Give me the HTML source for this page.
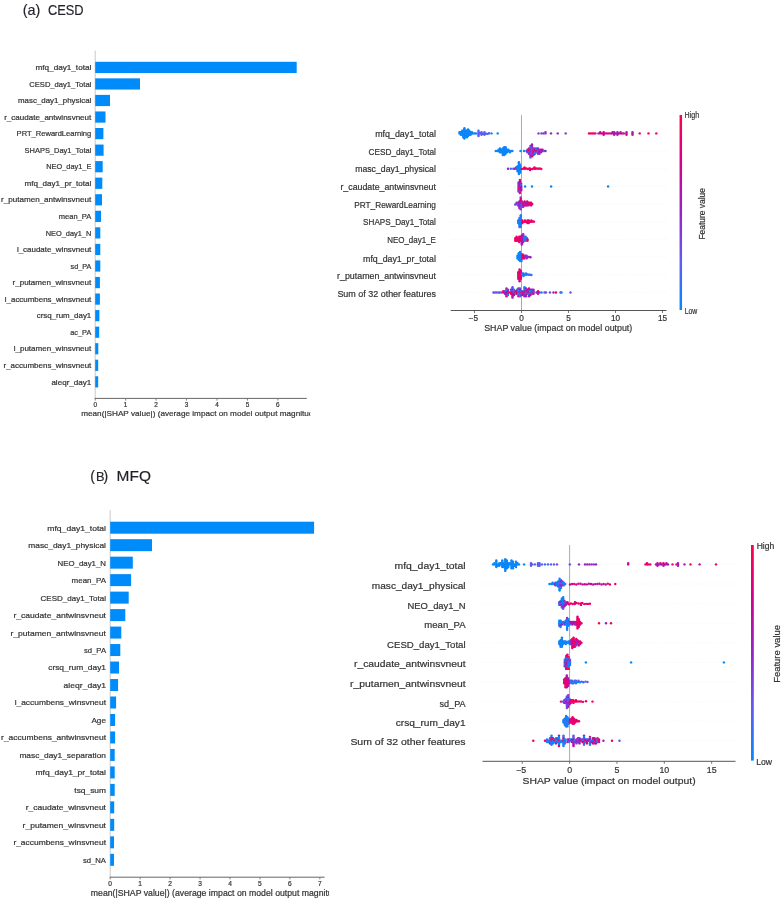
<!DOCTYPE html>
<html><head><meta charset="utf-8"><style>
html,body{margin:0;padding:0;background:#fff;width:783px;height:899px;overflow:hidden}
svg{display:block;filter:blur(0.3px)}
text{font-family:"Liberation Sans",sans-serif;stroke:#333333;stroke-width:0.2px}
</style></head><body>
<svg width="783" height="899" viewBox="0 0 783 899">
<rect width="783" height="899" fill="#ffffff"/>
<text x="22.8" y="14.9" font-size="15" textLength="17.6" lengthAdjust="spacingAndGlyphs" fill="#1f1f2a" stroke="#1f1f2a" stroke-width="0.3">(a)</text>
<text x="48.0" y="14.9" font-size="14.9" textLength="35.6" lengthAdjust="spacingAndGlyphs" fill="#1f1f2a" stroke="#1f1f2a" stroke-width="0.3">CESD</text>
<text x="90.2" y="480.7" font-size="14" fill="#1f1f2a" stroke="#1f1f2a" stroke-width="0.2">(</text>
<text x="96.0" y="480.7" font-size="12.8" fill="#1f1f2a" stroke="#1f1f2a" stroke-width="0.2">B</text>
<text x="103.5" y="480.7" font-size="14" fill="#1f1f2a" stroke="#1f1f2a" stroke-width="0.2">)</text>
<text x="116.6" y="480.7" font-size="14.4" textLength="34.3" lengthAdjust="spacingAndGlyphs" fill="#1f1f2a" stroke="#1f1f2a" stroke-width="0.2">MFQ</text>
<line x1="95.2" y1="50.5" x2="95.2" y2="398.4" stroke="#bbbbbb" stroke-width="0.8"/>
<rect x="95.2" y="61.80" width="201.50" height="11.2" fill="#008bfb"/>
<text x="35.5" y="70.0" font-size="7.3" textLength="55.8" lengthAdjust="spacingAndGlyphs" fill="#333333" >mfq_day1_total</text>
<rect x="95.2" y="78.35" width="44.80" height="11.2" fill="#008bfb"/>
<text x="29.3" y="86.5" font-size="7.3" textLength="62.0" lengthAdjust="spacingAndGlyphs" fill="#333333" >CESD_day1_Total</text>
<rect x="95.2" y="94.90" width="14.80" height="11.2" fill="#008bfb"/>
<text x="18.0" y="103.1" font-size="7.3" textLength="73.3" lengthAdjust="spacingAndGlyphs" fill="#333333" >masc_day1_physical</text>
<rect x="95.2" y="111.45" width="10.30" height="11.2" fill="#008bfb"/>
<text x="4.2" y="119.7" font-size="7.3" textLength="87.1" lengthAdjust="spacingAndGlyphs" fill="#333333" >r_caudate_antwinsvneut</text>
<rect x="95.2" y="128.00" width="8.20" height="11.2" fill="#008bfb"/>
<text x="16.6" y="136.2" font-size="7.3" textLength="74.7" lengthAdjust="spacingAndGlyphs" fill="#333333" >PRT_RewardLearning</text>
<rect x="95.2" y="144.55" width="8.40" height="11.2" fill="#008bfb"/>
<text x="24.6" y="152.8" font-size="7.3" textLength="66.7" lengthAdjust="spacingAndGlyphs" fill="#333333" >SHAPS_Day1_Total</text>
<rect x="95.2" y="161.10" width="7.50" height="11.2" fill="#008bfb"/>
<text x="46.3" y="169.3" font-size="7.3" textLength="45.0" lengthAdjust="spacingAndGlyphs" fill="#333333" >NEO_day1_E</text>
<rect x="95.2" y="177.65" width="7.10" height="11.2" fill="#008bfb"/>
<text x="24.6" y="185.8" font-size="7.3" textLength="66.7" lengthAdjust="spacingAndGlyphs" fill="#333333" >mfq_day1_pr_total</text>
<rect x="95.2" y="194.20" width="6.80" height="11.2" fill="#008bfb"/>
<text x="1.0" y="202.4" font-size="7.3" textLength="90.3" lengthAdjust="spacingAndGlyphs" fill="#333333" >r_putamen_antwinsvneut</text>
<rect x="95.2" y="210.75" width="5.80" height="11.2" fill="#008bfb"/>
<text x="58.8" y="219.0" font-size="7.3" textLength="32.5" lengthAdjust="spacingAndGlyphs" fill="#333333" >mean_PA</text>
<rect x="95.2" y="227.30" width="5.10" height="11.2" fill="#008bfb"/>
<text x="45.7" y="235.5" font-size="7.3" textLength="45.6" lengthAdjust="spacingAndGlyphs" fill="#333333" >NEO_day1_N</text>
<rect x="95.2" y="243.85" width="5.10" height="11.2" fill="#008bfb"/>
<text x="16.9" y="252.1" font-size="7.3" textLength="74.4" lengthAdjust="spacingAndGlyphs" fill="#333333" >l_caudate_winsvneut</text>
<rect x="95.2" y="260.40" width="5.10" height="11.2" fill="#008bfb"/>
<text x="70.6" y="268.6" font-size="7.3" textLength="20.7" lengthAdjust="spacingAndGlyphs" fill="#333333" >sd_PA</text>
<rect x="95.2" y="276.95" width="4.70" height="11.2" fill="#008bfb"/>
<text x="12.5" y="285.2" font-size="7.3" textLength="78.8" lengthAdjust="spacingAndGlyphs" fill="#333333" >r_putamen_winsvneut</text>
<rect x="95.2" y="293.50" width="4.70" height="11.2" fill="#008bfb"/>
<text x="4.8" y="301.7" font-size="7.3" textLength="86.5" lengthAdjust="spacingAndGlyphs" fill="#333333" >l_accumbens_winsvneut</text>
<rect x="95.2" y="310.05" width="4.20" height="11.2" fill="#008bfb"/>
<text x="36.7" y="318.2" font-size="7.3" textLength="54.6" lengthAdjust="spacingAndGlyphs" fill="#333333" >crsq_rum_day1</text>
<rect x="95.2" y="326.60" width="4.00" height="11.2" fill="#008bfb"/>
<text x="70.3" y="334.8" font-size="7.3" textLength="21.0" lengthAdjust="spacingAndGlyphs" fill="#333333" >ac_PA</text>
<rect x="95.2" y="343.15" width="3.10" height="11.2" fill="#008bfb"/>
<text x="13.7" y="351.4" font-size="7.3" textLength="77.6" lengthAdjust="spacingAndGlyphs" fill="#333333" >l_putamen_winsvneut</text>
<rect x="95.2" y="359.70" width="3.00" height="11.2" fill="#008bfb"/>
<text x="3.5" y="367.9" font-size="7.3" textLength="87.8" lengthAdjust="spacingAndGlyphs" fill="#333333" >r_accumbens_winsvneut</text>
<rect x="95.2" y="376.25" width="3.00" height="11.2" fill="#008bfb"/>
<text x="51.4" y="384.5" font-size="7.3" textLength="39.9" lengthAdjust="spacingAndGlyphs" fill="#333333" >aleqr_day1</text>
<line x1="94.7" y1="398.4" x2="306.8" y2="398.4" stroke="#666666" stroke-width="1"/>
<line x1="95.20" y1="398.4" x2="95.20" y2="400.59999999999997" stroke="#666666" stroke-width="0.8"/>
<text x="95.20" y="406.9" font-size="6.4" text-anchor="middle" fill="#333333">0</text>
<line x1="125.65" y1="398.4" x2="125.65" y2="400.59999999999997" stroke="#666666" stroke-width="0.8"/>
<text x="125.65" y="406.9" font-size="6.4" text-anchor="middle" fill="#333333">1</text>
<line x1="156.10" y1="398.4" x2="156.10" y2="400.59999999999997" stroke="#666666" stroke-width="0.8"/>
<text x="156.10" y="406.9" font-size="6.4" text-anchor="middle" fill="#333333">2</text>
<line x1="186.55" y1="398.4" x2="186.55" y2="400.59999999999997" stroke="#666666" stroke-width="0.8"/>
<text x="186.55" y="406.9" font-size="6.4" text-anchor="middle" fill="#333333">3</text>
<line x1="217.00" y1="398.4" x2="217.00" y2="400.59999999999997" stroke="#666666" stroke-width="0.8"/>
<text x="217.00" y="406.9" font-size="6.4" text-anchor="middle" fill="#333333">4</text>
<line x1="247.45" y1="398.4" x2="247.45" y2="400.59999999999997" stroke="#666666" stroke-width="0.8"/>
<text x="247.45" y="406.9" font-size="6.4" text-anchor="middle" fill="#333333">5</text>
<line x1="277.90" y1="398.4" x2="277.90" y2="400.59999999999997" stroke="#666666" stroke-width="0.8"/>
<text x="277.90" y="406.9" font-size="6.4" text-anchor="middle" fill="#333333">6</text>
<defs><clipPath id="clip398"><rect x="0" y="401.4" width="310.3" height="22"/></clipPath></defs>
<g clip-path="url(#clip398)"><text x="81.2" y="416.0" font-size="8.1" textLength="239.5" lengthAdjust="spacingAndGlyphs" fill="#333333">mean(|SHAP value|) (average impact on model output magnitude)</text></g>
<line x1="110.2" y1="510.2" x2="110.2" y2="877.2" stroke="#bbbbbb" stroke-width="0.8"/>
<rect x="110.2" y="521.70" width="203.90" height="12" fill="#008bfb"/>
<text x="47.3" y="530.6" font-size="7.7" textLength="58.7" lengthAdjust="spacingAndGlyphs" fill="#333333" >mfq_day1_total</text>
<rect x="110.2" y="539.18" width="41.80" height="12" fill="#008bfb"/>
<text x="28.3" y="548.1" font-size="7.7" textLength="77.7" lengthAdjust="spacingAndGlyphs" fill="#333333" >masc_day1_physical</text>
<rect x="110.2" y="556.66" width="22.60" height="12" fill="#008bfb"/>
<text x="57.5" y="565.6" font-size="7.7" textLength="48.5" lengthAdjust="spacingAndGlyphs" fill="#333333" >NEO_day1_N</text>
<rect x="110.2" y="574.14" width="20.90" height="12" fill="#008bfb"/>
<text x="71.6" y="583.0" font-size="7.7" textLength="34.4" lengthAdjust="spacingAndGlyphs" fill="#333333" >mean_PA</text>
<rect x="110.2" y="591.62" width="18.50" height="12" fill="#008bfb"/>
<text x="40.6" y="600.5" font-size="7.7" textLength="65.4" lengthAdjust="spacingAndGlyphs" fill="#333333" >CESD_day1_Total</text>
<rect x="110.2" y="609.10" width="15.10" height="12" fill="#008bfb"/>
<text x="13.5" y="618.0" font-size="7.7" textLength="92.5" lengthAdjust="spacingAndGlyphs" fill="#333333" >r_caudate_antwinsvneut</text>
<rect x="110.2" y="626.58" width="11.10" height="12" fill="#008bfb"/>
<text x="10.5" y="635.5" font-size="7.7" textLength="95.5" lengthAdjust="spacingAndGlyphs" fill="#333333" >r_putamen_antwinsvneut</text>
<rect x="110.2" y="644.06" width="10.10" height="12" fill="#008bfb"/>
<text x="84.0" y="653.0" font-size="7.7" textLength="22.0" lengthAdjust="spacingAndGlyphs" fill="#333333" >sd_PA</text>
<rect x="110.2" y="661.54" width="8.80" height="12" fill="#008bfb"/>
<text x="48.2" y="670.4" font-size="7.7" textLength="57.8" lengthAdjust="spacingAndGlyphs" fill="#333333" >crsq_rum_day1</text>
<rect x="110.2" y="679.02" width="7.90" height="12" fill="#008bfb"/>
<text x="63.6" y="687.9" font-size="7.7" textLength="42.4" lengthAdjust="spacingAndGlyphs" fill="#333333" >aleqr_day1</text>
<rect x="110.2" y="696.50" width="5.90" height="12" fill="#008bfb"/>
<text x="14.7" y="705.4" font-size="7.7" textLength="91.3" lengthAdjust="spacingAndGlyphs" fill="#333333" >l_accumbens_winsvneut</text>
<rect x="110.2" y="713.98" width="4.90" height="12" fill="#008bfb"/>
<text x="91.4" y="722.9" font-size="7.7" textLength="14.6" lengthAdjust="spacingAndGlyphs" fill="#333333" >Age</text>
<rect x="110.2" y="731.46" width="4.90" height="12" fill="#008bfb"/>
<text x="1.1" y="740.4" font-size="7.7" textLength="104.9" lengthAdjust="spacingAndGlyphs" fill="#333333" >r_accumbens_antwinsvneut</text>
<rect x="110.2" y="748.94" width="4.50" height="12" fill="#008bfb"/>
<text x="19.4" y="757.8" font-size="7.7" textLength="86.6" lengthAdjust="spacingAndGlyphs" fill="#333333" >masc_day1_separation</text>
<rect x="110.2" y="766.42" width="4.50" height="12" fill="#008bfb"/>
<text x="35.5" y="775.3" font-size="7.7" textLength="70.5" lengthAdjust="spacingAndGlyphs" fill="#333333" >mfq_day1_pr_total</text>
<rect x="110.2" y="783.90" width="4.50" height="12" fill="#008bfb"/>
<text x="74.3" y="792.8" font-size="7.7" textLength="31.7" lengthAdjust="spacingAndGlyphs" fill="#333333" >tsq_sum</text>
<rect x="110.2" y="801.38" width="4.00" height="12" fill="#008bfb"/>
<text x="25.7" y="810.3" font-size="7.7" textLength="80.3" lengthAdjust="spacingAndGlyphs" fill="#333333" >r_caudate_winsvneut</text>
<rect x="110.2" y="818.86" width="4.00" height="12" fill="#008bfb"/>
<text x="22.6" y="827.8" font-size="7.7" textLength="83.4" lengthAdjust="spacingAndGlyphs" fill="#333333" >r_putamen_winsvneut</text>
<rect x="110.2" y="836.34" width="3.80" height="12" fill="#008bfb"/>
<text x="13.4" y="845.2" font-size="7.7" textLength="92.6" lengthAdjust="spacingAndGlyphs" fill="#333333" >r_accumbens_winsvneut</text>
<rect x="110.2" y="853.82" width="3.80" height="12" fill="#008bfb"/>
<text x="82.9" y="862.7" font-size="7.7" textLength="23.1" lengthAdjust="spacingAndGlyphs" fill="#333333" >sd_NA</text>
<line x1="109.7" y1="877.2" x2="324.7" y2="877.2" stroke="#666666" stroke-width="1"/>
<line x1="110.20" y1="877.2" x2="110.20" y2="879.4000000000001" stroke="#666666" stroke-width="0.8"/>
<text x="110.20" y="885.8" font-size="6.6" text-anchor="middle" fill="#333333">0</text>
<line x1="140.15" y1="877.2" x2="140.15" y2="879.4000000000001" stroke="#666666" stroke-width="0.8"/>
<text x="140.15" y="885.8" font-size="6.6" text-anchor="middle" fill="#333333">1</text>
<line x1="170.10" y1="877.2" x2="170.10" y2="879.4000000000001" stroke="#666666" stroke-width="0.8"/>
<text x="170.10" y="885.8" font-size="6.6" text-anchor="middle" fill="#333333">2</text>
<line x1="200.05" y1="877.2" x2="200.05" y2="879.4000000000001" stroke="#666666" stroke-width="0.8"/>
<text x="200.05" y="885.8" font-size="6.6" text-anchor="middle" fill="#333333">3</text>
<line x1="230.00" y1="877.2" x2="230.00" y2="879.4000000000001" stroke="#666666" stroke-width="0.8"/>
<text x="230.00" y="885.8" font-size="6.6" text-anchor="middle" fill="#333333">4</text>
<line x1="259.95" y1="877.2" x2="259.95" y2="879.4000000000001" stroke="#666666" stroke-width="0.8"/>
<text x="259.95" y="885.8" font-size="6.6" text-anchor="middle" fill="#333333">5</text>
<line x1="289.90" y1="877.2" x2="289.90" y2="879.4000000000001" stroke="#666666" stroke-width="0.8"/>
<text x="289.90" y="885.8" font-size="6.6" text-anchor="middle" fill="#333333">6</text>
<line x1="319.85" y1="877.2" x2="319.85" y2="879.4000000000001" stroke="#666666" stroke-width="0.8"/>
<text x="319.85" y="885.8" font-size="6.6" text-anchor="middle" fill="#333333">7</text>
<defs><clipPath id="clip877"><rect x="0" y="880.2" width="329.1" height="22"/></clipPath></defs>
<g clip-path="url(#clip877)"><text x="90.8" y="895.6" font-size="8.5" textLength="254.5" lengthAdjust="spacingAndGlyphs" fill="#333333">mean(|SHAP value|) (average impact on model output magnitude)</text></g>
<line x1="450.7" y1="133.40" x2="666.5" y2="133.40" stroke="#f2f2f2" stroke-width="0.6" stroke-dasharray="1.5 2"/>
<line x1="450.7" y1="151.07" x2="666.5" y2="151.07" stroke="#f2f2f2" stroke-width="0.6" stroke-dasharray="1.5 2"/>
<line x1="450.7" y1="168.74" x2="666.5" y2="168.74" stroke="#f2f2f2" stroke-width="0.6" stroke-dasharray="1.5 2"/>
<line x1="450.7" y1="186.41" x2="666.5" y2="186.41" stroke="#f2f2f2" stroke-width="0.6" stroke-dasharray="1.5 2"/>
<line x1="450.7" y1="204.08" x2="666.5" y2="204.08" stroke="#f2f2f2" stroke-width="0.6" stroke-dasharray="1.5 2"/>
<line x1="450.7" y1="221.75" x2="666.5" y2="221.75" stroke="#f2f2f2" stroke-width="0.6" stroke-dasharray="1.5 2"/>
<line x1="450.7" y1="239.42" x2="666.5" y2="239.42" stroke="#f2f2f2" stroke-width="0.6" stroke-dasharray="1.5 2"/>
<line x1="450.7" y1="257.09" x2="666.5" y2="257.09" stroke="#f2f2f2" stroke-width="0.6" stroke-dasharray="1.5 2"/>
<line x1="450.7" y1="274.76" x2="666.5" y2="274.76" stroke="#f2f2f2" stroke-width="0.6" stroke-dasharray="1.5 2"/>
<line x1="450.7" y1="292.43" x2="666.5" y2="292.43" stroke="#f2f2f2" stroke-width="0.6" stroke-dasharray="1.5 2"/>
<line x1="521.5" y1="115.2" x2="521.5" y2="310.5" stroke="#a0a0a0" stroke-width="0.9"/>
<circle cx="459.50" cy="132.10" r="1.22" fill="#0887fa"/>
<circle cx="459.50" cy="133.40" r="1.22" fill="#0489fb"/>
<circle cx="460.80" cy="132.10" r="1.22" fill="#1083f9"/>
<circle cx="460.80" cy="133.40" r="1.22" fill="#028afb"/>
<circle cx="460.80" cy="134.70" r="1.22" fill="#0d85fa"/>
<circle cx="462.10" cy="130.80" r="1.22" fill="#0987fa"/>
<circle cx="462.10" cy="132.10" r="1.22" fill="#018afb"/>
<circle cx="462.10" cy="133.40" r="1.22" fill="#0c85fa"/>
<circle cx="462.10" cy="134.70" r="1.22" fill="#018bfb"/>
<circle cx="463.30" cy="130.80" r="1.22" fill="#0a86fa"/>
<circle cx="463.30" cy="132.10" r="1.22" fill="#028afb"/>
<circle cx="463.30" cy="133.40" r="1.22" fill="#028afb"/>
<circle cx="463.30" cy="134.70" r="1.22" fill="#0a86fa"/>
<circle cx="463.30" cy="136.00" r="1.22" fill="#1481f9"/>
<circle cx="463.30" cy="137.30" r="1.22" fill="#038afb"/>
<circle cx="464.40" cy="128.20" r="1.22" fill="#0588fa"/>
<circle cx="464.40" cy="129.50" r="1.22" fill="#0f84f9"/>
<circle cx="464.40" cy="130.80" r="1.22" fill="#1780f8"/>
<circle cx="464.40" cy="132.10" r="1.22" fill="#0e84f9"/>
<circle cx="464.40" cy="133.40" r="1.22" fill="#0a86fa"/>
<circle cx="464.40" cy="134.70" r="1.22" fill="#1780f8"/>
<circle cx="464.40" cy="136.00" r="1.22" fill="#018afb"/>
<circle cx="464.40" cy="137.30" r="1.22" fill="#1581f9"/>
<circle cx="464.40" cy="138.60" r="1.22" fill="#0788fa"/>
<circle cx="465.60" cy="130.80" r="1.22" fill="#0389fb"/>
<circle cx="465.60" cy="132.10" r="1.22" fill="#038afb"/>
<circle cx="465.60" cy="133.40" r="1.22" fill="#0787fa"/>
<circle cx="465.60" cy="134.70" r="1.22" fill="#1481f9"/>
<circle cx="465.60" cy="136.00" r="1.22" fill="#0489fb"/>
<circle cx="466.80" cy="130.80" r="1.22" fill="#0e84f9"/>
<circle cx="466.80" cy="132.10" r="1.22" fill="#0f83f9"/>
<circle cx="466.80" cy="133.40" r="1.22" fill="#0987fa"/>
<circle cx="466.80" cy="134.70" r="1.22" fill="#0d85fa"/>
<circle cx="466.80" cy="136.00" r="1.22" fill="#028afb"/>
<circle cx="466.80" cy="137.30" r="1.22" fill="#018afb"/>
<circle cx="468.00" cy="129.50" r="1.22" fill="#0589fa"/>
<circle cx="468.00" cy="130.80" r="1.22" fill="#1083f9"/>
<circle cx="468.00" cy="132.10" r="1.22" fill="#0a86fa"/>
<circle cx="468.00" cy="133.40" r="1.22" fill="#0887fa"/>
<circle cx="468.00" cy="134.70" r="1.22" fill="#0e84f9"/>
<circle cx="468.00" cy="136.00" r="1.22" fill="#0b86fa"/>
<circle cx="469.30" cy="130.80" r="1.22" fill="#0787fa"/>
<circle cx="469.30" cy="132.10" r="1.22" fill="#1382f9"/>
<circle cx="469.30" cy="133.40" r="1.22" fill="#1183f9"/>
<circle cx="469.30" cy="134.70" r="1.22" fill="#0688fa"/>
<circle cx="470.60" cy="132.10" r="1.22" fill="#0e84f9"/>
<circle cx="470.60" cy="133.40" r="1.22" fill="#0d85fa"/>
<circle cx="470.60" cy="134.70" r="1.22" fill="#1581f9"/>
<circle cx="472.00" cy="132.10" r="1.22" fill="#1282f9"/>
<circle cx="472.00" cy="133.40" r="1.22" fill="#0788fa"/>
<circle cx="473.30" cy="133.40" r="1.22" fill="#038afb"/>
<circle cx="474.70" cy="133.40" r="1.22" fill="#1282f9"/>
<circle cx="476.00" cy="133.40" r="1.22" fill="#0c85fa"/>
<circle cx="478.50" cy="130.80" r="1.22" fill="#3372f5"/>
<circle cx="478.50" cy="132.10" r="1.22" fill="#605cf0"/>
<circle cx="478.50" cy="133.40" r="1.22" fill="#6658ef"/>
<circle cx="478.50" cy="134.70" r="1.22" fill="#595ff1"/>
<circle cx="478.50" cy="136.00" r="1.22" fill="#6a54ec"/>
<circle cx="480.00" cy="133.21" r="1.22" fill="#625bf0"/>
<circle cx="481.50" cy="132.10" r="1.22" fill="#5b5ff1"/>
<circle cx="481.50" cy="133.40" r="1.22" fill="#5a5ff1"/>
<circle cx="481.50" cy="134.70" r="1.22" fill="#5163f2"/>
<circle cx="483.00" cy="133.74" r="1.22" fill="#6c51ea"/>
<circle cx="484.50" cy="132.10" r="1.22" fill="#5263f2"/>
<circle cx="484.50" cy="133.40" r="1.22" fill="#605cf0"/>
<circle cx="484.50" cy="134.70" r="1.22" fill="#3471f5"/>
<circle cx="486.00" cy="133.60" r="1.22" fill="#5f5df1"/>
<circle cx="487.50" cy="133.89" r="1.22" fill="#6856ed"/>
<circle cx="489.00" cy="133.18" r="1.22" fill="#4c66f3"/>
<circle cx="491.50" cy="133.40" r="1.22" fill="#018bfb"/>
<circle cx="497.70" cy="133.40" r="1.22" fill="#0788fa"/>
<circle cx="538.50" cy="133.40" r="1.22" fill="#7a41de"/>
<circle cx="541.50" cy="133.40" r="1.22" fill="#7d3edc"/>
<circle cx="543.50" cy="133.40" r="1.22" fill="#8833d3"/>
<circle cx="545.50" cy="132.10" r="1.22" fill="#9c20c2"/>
<circle cx="545.50" cy="133.40" r="1.22" fill="#7b40dd"/>
<circle cx="551.00" cy="133.40" r="1.22" fill="#8e2cce"/>
<circle cx="557.70" cy="133.40" r="1.22" fill="#9921c5"/>
<circle cx="565.70" cy="133.40" r="1.22" fill="#8338d7"/>
<circle cx="589.00" cy="133.40" r="1.22" fill="#f30060"/>
<circle cx="590.60" cy="133.40" r="1.22" fill="#fe0052"/>
<circle cx="592.20" cy="133.40" r="1.22" fill="#f00064"/>
<circle cx="593.80" cy="133.40" r="1.22" fill="#f10063"/>
<circle cx="595.40" cy="133.40" r="1.22" fill="#f8005b"/>
<circle cx="598.50" cy="133.40" r="1.22" fill="#a21cbc"/>
<circle cx="600.20" cy="132.10" r="1.22" fill="#c50799"/>
<circle cx="600.20" cy="133.40" r="1.22" fill="#c10a9d"/>
<circle cx="602.00" cy="133.40" r="1.22" fill="#ea006c"/>
<circle cx="603.70" cy="132.10" r="1.22" fill="#da0082"/>
<circle cx="603.70" cy="133.40" r="1.22" fill="#cd0391"/>
<circle cx="603.70" cy="134.70" r="1.22" fill="#d50088"/>
<circle cx="605.40" cy="133.40" r="1.22" fill="#a719b7"/>
<circle cx="607.00" cy="133.40" r="1.22" fill="#df007b"/>
<circle cx="609.00" cy="133.40" r="1.22" fill="#e00079"/>
<circle cx="611.00" cy="133.40" r="1.22" fill="#c10a9d"/>
<circle cx="612.60" cy="132.10" r="1.22" fill="#a11cbd"/>
<circle cx="612.60" cy="133.40" r="1.22" fill="#d80084"/>
<circle cx="614.20" cy="132.10" r="1.22" fill="#9d1fc1"/>
<circle cx="614.20" cy="133.40" r="1.22" fill="#9d1fc1"/>
<circle cx="614.20" cy="134.70" r="1.22" fill="#ad16b1"/>
<circle cx="615.80" cy="133.40" r="1.22" fill="#bb0ea3"/>
<circle cx="617.40" cy="132.10" r="1.22" fill="#9c20c2"/>
<circle cx="617.40" cy="133.40" r="1.22" fill="#9623c8"/>
<circle cx="617.40" cy="134.70" r="1.22" fill="#a619b8"/>
<circle cx="619.00" cy="133.40" r="1.22" fill="#bd0ca1"/>
<circle cx="620.60" cy="132.10" r="1.22" fill="#9921c5"/>
<circle cx="620.60" cy="133.40" r="1.22" fill="#ec006a"/>
<circle cx="622.20" cy="133.40" r="1.22" fill="#a61ab8"/>
<circle cx="623.80" cy="133.40" r="1.22" fill="#bc0da2"/>
<circle cx="626.50" cy="132.10" r="1.22" fill="#bd0ca1"/>
<circle cx="626.50" cy="133.40" r="1.22" fill="#a31bbb"/>
<circle cx="626.50" cy="134.70" r="1.22" fill="#ea006d"/>
<circle cx="632.50" cy="132.10" r="1.22" fill="#ae15b0"/>
<circle cx="632.50" cy="133.40" r="1.22" fill="#ae15b0"/>
<circle cx="632.50" cy="134.70" r="1.22" fill="#ae15b0"/>
<circle cx="639.70" cy="133.40" r="1.22" fill="#f6005d"/>
<circle cx="648.50" cy="133.40" r="1.22" fill="#f6005d"/>
<circle cx="656.30" cy="133.40" r="1.22" fill="#f6005d"/>
<circle cx="495.80" cy="151.07" r="1.22" fill="#028afb"/>
<circle cx="497.20" cy="151.07" r="1.22" fill="#0688fa"/>
<circle cx="498.60" cy="149.77" r="1.22" fill="#1481f9"/>
<circle cx="498.60" cy="151.07" r="1.22" fill="#0489fb"/>
<circle cx="500.00" cy="148.47" r="1.22" fill="#018bfb"/>
<circle cx="500.00" cy="149.77" r="1.22" fill="#1780f8"/>
<circle cx="500.00" cy="151.07" r="1.22" fill="#0d85fa"/>
<circle cx="500.00" cy="152.37" r="1.22" fill="#0489fb"/>
<circle cx="501.40" cy="149.77" r="1.22" fill="#0d85fa"/>
<circle cx="501.40" cy="151.07" r="1.22" fill="#018bfb"/>
<circle cx="501.40" cy="152.37" r="1.22" fill="#0d85fa"/>
<circle cx="502.80" cy="148.47" r="1.22" fill="#177ff8"/>
<circle cx="502.80" cy="149.77" r="1.22" fill="#1581f9"/>
<circle cx="502.80" cy="151.07" r="1.22" fill="#1183f9"/>
<circle cx="502.80" cy="152.37" r="1.22" fill="#0688fa"/>
<circle cx="502.80" cy="153.67" r="1.22" fill="#0987fa"/>
<circle cx="502.80" cy="154.97" r="1.22" fill="#0489fb"/>
<circle cx="504.20" cy="147.17" r="1.22" fill="#1382f9"/>
<circle cx="504.20" cy="148.47" r="1.22" fill="#0d85fa"/>
<circle cx="504.20" cy="149.77" r="1.22" fill="#1382f9"/>
<circle cx="504.20" cy="151.07" r="1.22" fill="#0887fa"/>
<circle cx="504.20" cy="152.37" r="1.22" fill="#0588fa"/>
<circle cx="504.20" cy="153.67" r="1.22" fill="#1381f9"/>
<circle cx="504.20" cy="154.97" r="1.22" fill="#187ff8"/>
<circle cx="505.60" cy="147.17" r="1.22" fill="#1481f9"/>
<circle cx="505.60" cy="148.47" r="1.22" fill="#1382f9"/>
<circle cx="505.60" cy="149.77" r="1.22" fill="#1481f9"/>
<circle cx="505.60" cy="151.07" r="1.22" fill="#1282f9"/>
<circle cx="505.60" cy="152.37" r="1.22" fill="#0588fa"/>
<circle cx="505.60" cy="153.67" r="1.22" fill="#0c85fa"/>
<circle cx="507.00" cy="149.77" r="1.22" fill="#0987fa"/>
<circle cx="507.00" cy="151.07" r="1.22" fill="#018bfb"/>
<circle cx="507.00" cy="152.37" r="1.22" fill="#018bfb"/>
<circle cx="508.40" cy="149.77" r="1.22" fill="#0788fa"/>
<circle cx="508.40" cy="151.07" r="1.22" fill="#0688fa"/>
<circle cx="509.80" cy="151.07" r="1.22" fill="#1183f9"/>
<circle cx="509.80" cy="152.37" r="1.22" fill="#1780f8"/>
<circle cx="511.20" cy="151.07" r="1.22" fill="#1680f9"/>
<circle cx="512.40" cy="151.07" r="1.22" fill="#1780f8"/>
<circle cx="520.50" cy="151.07" r="1.22" fill="#0c85fa"/>
<circle cx="524.00" cy="151.07" r="1.22" fill="#0c85fa"/>
<circle cx="526.50" cy="151.07" r="1.22" fill="#6e4fe8"/>
<circle cx="527.50" cy="149.77" r="1.22" fill="#8239d8"/>
<circle cx="527.50" cy="151.07" r="1.22" fill="#9623c8"/>
<circle cx="527.50" cy="152.37" r="1.22" fill="#8239d8"/>
<circle cx="529.00" cy="148.47" r="1.22" fill="#ae15b0"/>
<circle cx="529.00" cy="149.77" r="1.22" fill="#f6005d"/>
<circle cx="529.00" cy="151.07" r="1.22" fill="#f6005d"/>
<circle cx="529.00" cy="152.37" r="1.22" fill="#1481f9"/>
<circle cx="529.00" cy="153.67" r="1.22" fill="#ae15b0"/>
<circle cx="530.50" cy="145.87" r="1.22" fill="#9623c8"/>
<circle cx="530.50" cy="147.17" r="1.22" fill="#5064f2"/>
<circle cx="530.50" cy="148.47" r="1.22" fill="#5064f2"/>
<circle cx="530.50" cy="149.77" r="1.22" fill="#a21cbc"/>
<circle cx="530.50" cy="151.07" r="1.22" fill="#8239d8"/>
<circle cx="530.50" cy="152.37" r="1.22" fill="#ae15b0"/>
<circle cx="530.50" cy="153.67" r="1.22" fill="#6e4fe8"/>
<circle cx="530.50" cy="154.97" r="1.22" fill="#a21cbc"/>
<circle cx="530.50" cy="156.27" r="1.22" fill="#9623c8"/>
<circle cx="530.50" cy="157.57" r="1.22" fill="#5064f2"/>
<circle cx="532.00" cy="144.57" r="1.22" fill="#a21cbc"/>
<circle cx="532.00" cy="145.87" r="1.22" fill="#ae15b0"/>
<circle cx="532.00" cy="147.17" r="1.22" fill="#a21cbc"/>
<circle cx="532.00" cy="148.47" r="1.22" fill="#5064f2"/>
<circle cx="532.00" cy="149.77" r="1.22" fill="#6e4fe8"/>
<circle cx="532.00" cy="151.07" r="1.22" fill="#6e4fe8"/>
<circle cx="532.00" cy="152.37" r="1.22" fill="#6e4fe8"/>
<circle cx="532.00" cy="153.67" r="1.22" fill="#1481f9"/>
<circle cx="532.00" cy="154.97" r="1.22" fill="#6e4fe8"/>
<circle cx="532.00" cy="156.27" r="1.22" fill="#f6005d"/>
<circle cx="533.50" cy="148.47" r="1.22" fill="#ae15b0"/>
<circle cx="533.50" cy="149.77" r="1.22" fill="#6e4fe8"/>
<circle cx="533.50" cy="151.07" r="1.22" fill="#f6005d"/>
<circle cx="533.50" cy="152.37" r="1.22" fill="#f6005d"/>
<circle cx="533.50" cy="153.67" r="1.22" fill="#ae15b0"/>
<circle cx="533.50" cy="154.97" r="1.22" fill="#9623c8"/>
<circle cx="535.00" cy="148.47" r="1.22" fill="#6e4fe8"/>
<circle cx="535.00" cy="149.77" r="1.22" fill="#db0080"/>
<circle cx="535.00" cy="151.07" r="1.22" fill="#db0080"/>
<circle cx="535.00" cy="152.37" r="1.22" fill="#6e4fe8"/>
<circle cx="535.00" cy="153.67" r="1.22" fill="#1481f9"/>
<circle cx="536.50" cy="148.47" r="1.22" fill="#1481f9"/>
<circle cx="536.50" cy="149.77" r="1.22" fill="#5064f2"/>
<circle cx="536.50" cy="151.07" r="1.22" fill="#db0080"/>
<circle cx="536.50" cy="152.37" r="1.22" fill="#6e4fe8"/>
<circle cx="538.00" cy="148.47" r="1.22" fill="#a21cbc"/>
<circle cx="538.00" cy="149.77" r="1.22" fill="#8239d8"/>
<circle cx="538.00" cy="151.07" r="1.22" fill="#8239d8"/>
<circle cx="538.00" cy="152.37" r="1.22" fill="#1481f9"/>
<circle cx="538.00" cy="153.67" r="1.22" fill="#9623c8"/>
<circle cx="539.50" cy="149.77" r="1.22" fill="#8239d8"/>
<circle cx="539.50" cy="151.07" r="1.22" fill="#9623c8"/>
<circle cx="539.50" cy="152.37" r="1.22" fill="#db0080"/>
<circle cx="539.50" cy="153.67" r="1.22" fill="#8239d8"/>
<circle cx="541.00" cy="149.77" r="1.22" fill="#f6005d"/>
<circle cx="541.00" cy="151.07" r="1.22" fill="#9623c8"/>
<circle cx="541.00" cy="152.37" r="1.22" fill="#9623c8"/>
<circle cx="542.50" cy="149.77" r="1.22" fill="#db0080"/>
<circle cx="542.50" cy="151.07" r="1.22" fill="#a21cbc"/>
<circle cx="544.00" cy="151.07" r="1.22" fill="#1481f9"/>
<circle cx="545.50" cy="151.07" r="1.22" fill="#9623c8"/>
<circle cx="508.00" cy="168.74" r="1.22" fill="#a21cbc"/>
<circle cx="510.80" cy="168.74" r="1.22" fill="#1481f9"/>
<circle cx="513.30" cy="168.74" r="1.22" fill="#645af0"/>
<circle cx="514.80" cy="168.75" r="1.22" fill="#9c20c2"/>
<circle cx="516.20" cy="167.44" r="1.22" fill="#9e1fc0"/>
<circle cx="516.20" cy="168.74" r="1.22" fill="#8635d5"/>
<circle cx="517.60" cy="166.14" r="1.22" fill="#0489fb"/>
<circle cx="517.60" cy="167.44" r="1.22" fill="#0c85fa"/>
<circle cx="517.60" cy="168.74" r="1.22" fill="#1581f9"/>
<circle cx="517.60" cy="170.04" r="1.22" fill="#1382f9"/>
<circle cx="517.60" cy="171.34" r="1.22" fill="#0f84f9"/>
<circle cx="518.90" cy="162.24" r="1.22" fill="#1382f9"/>
<circle cx="518.90" cy="163.54" r="1.22" fill="#0489fb"/>
<circle cx="518.90" cy="164.84" r="1.22" fill="#0389fb"/>
<circle cx="518.90" cy="166.14" r="1.22" fill="#0f84f9"/>
<circle cx="518.90" cy="167.44" r="1.22" fill="#038afb"/>
<circle cx="518.90" cy="168.74" r="1.22" fill="#018afb"/>
<circle cx="518.90" cy="170.04" r="1.22" fill="#1083f9"/>
<circle cx="518.90" cy="171.34" r="1.22" fill="#0d85fa"/>
<circle cx="518.90" cy="172.64" r="1.22" fill="#0c85fa"/>
<circle cx="518.90" cy="173.94" r="1.22" fill="#1382f9"/>
<circle cx="520.20" cy="164.84" r="1.22" fill="#1581f9"/>
<circle cx="520.20" cy="166.14" r="1.22" fill="#018afb"/>
<circle cx="520.20" cy="167.44" r="1.22" fill="#0589fa"/>
<circle cx="520.20" cy="168.74" r="1.22" fill="#018bfb"/>
<circle cx="520.20" cy="170.04" r="1.22" fill="#028afb"/>
<circle cx="520.20" cy="171.34" r="1.22" fill="#0b86fa"/>
<circle cx="520.20" cy="172.64" r="1.22" fill="#018bfb"/>
<circle cx="521.80" cy="169.06" r="1.22" fill="#dd007d"/>
<circle cx="523.30" cy="168.60" r="1.22" fill="#fe0052"/>
<circle cx="524.80" cy="168.82" r="1.22" fill="#e20077"/>
<circle cx="526.30" cy="168.56" r="1.22" fill="#ed0068"/>
<circle cx="527.80" cy="168.99" r="1.22" fill="#ed0068"/>
<circle cx="529.30" cy="168.54" r="1.22" fill="#ee0068"/>
<circle cx="530.80" cy="169.04" r="1.22" fill="#fc0054"/>
<circle cx="532.30" cy="169.08" r="1.22" fill="#fb0056"/>
<circle cx="533.80" cy="168.50" r="1.22" fill="#eb006b"/>
<circle cx="535.30" cy="168.67" r="1.22" fill="#e9006e"/>
<circle cx="536.80" cy="168.59" r="1.22" fill="#f30061"/>
<circle cx="538.30" cy="168.68" r="1.22" fill="#e30076"/>
<circle cx="539.80" cy="168.58" r="1.22" fill="#df007a"/>
<circle cx="541.30" cy="168.96" r="1.22" fill="#fd0054"/>
<circle cx="524.50" cy="167.44" r="1.22" fill="#f20062"/>
<circle cx="524.50" cy="168.74" r="1.22" fill="#e8006f"/>
<circle cx="530.00" cy="168.74" r="1.22" fill="#e40074"/>
<circle cx="530.00" cy="170.04" r="1.22" fill="#e0007a"/>
<circle cx="534.50" cy="167.44" r="1.22" fill="#ec006a"/>
<circle cx="534.50" cy="168.74" r="1.22" fill="#f6005d"/>
<circle cx="518.60" cy="182.51" r="1.22" fill="#1481f9"/>
<circle cx="518.60" cy="183.81" r="1.22" fill="#ae15b0"/>
<circle cx="518.60" cy="185.11" r="1.22" fill="#ae15b0"/>
<circle cx="518.60" cy="186.41" r="1.22" fill="#8239d8"/>
<circle cx="518.60" cy="187.71" r="1.22" fill="#ed0069"/>
<circle cx="518.60" cy="189.01" r="1.22" fill="#ff0051"/>
<circle cx="518.60" cy="190.31" r="1.22" fill="#8239d8"/>
<circle cx="518.60" cy="191.61" r="1.22" fill="#8239d8"/>
<circle cx="519.90" cy="179.91" r="1.22" fill="#ed0069"/>
<circle cx="519.90" cy="181.21" r="1.22" fill="#ae15b0"/>
<circle cx="519.90" cy="182.51" r="1.22" fill="#d2008c"/>
<circle cx="519.90" cy="183.81" r="1.22" fill="#ae15b0"/>
<circle cx="519.90" cy="185.11" r="1.22" fill="#9623c8"/>
<circle cx="519.90" cy="186.41" r="1.22" fill="#ae15b0"/>
<circle cx="519.90" cy="187.71" r="1.22" fill="#8239d8"/>
<circle cx="519.90" cy="189.01" r="1.22" fill="#9623c8"/>
<circle cx="519.90" cy="190.31" r="1.22" fill="#9623c8"/>
<circle cx="519.90" cy="191.61" r="1.22" fill="#1481f9"/>
<circle cx="519.90" cy="192.91" r="1.22" fill="#ed0069"/>
<circle cx="521.20" cy="183.81" r="1.22" fill="#9623c8"/>
<circle cx="521.20" cy="185.11" r="1.22" fill="#1481f9"/>
<circle cx="521.20" cy="186.41" r="1.22" fill="#9623c8"/>
<circle cx="521.20" cy="187.71" r="1.22" fill="#d2008c"/>
<circle cx="521.20" cy="189.01" r="1.22" fill="#ae15b0"/>
<circle cx="521.20" cy="190.31" r="1.22" fill="#ae15b0"/>
<circle cx="525.10" cy="186.41" r="1.22" fill="#008bfb"/>
<circle cx="532.00" cy="186.41" r="1.22" fill="#008bfb"/>
<circle cx="551.10" cy="186.41" r="1.22" fill="#008bfb"/>
<circle cx="608.10" cy="186.41" r="1.22" fill="#008bfb"/>
<circle cx="515.20" cy="204.45" r="1.22" fill="#734ae4"/>
<circle cx="516.60" cy="202.78" r="1.22" fill="#9327cb"/>
<circle cx="516.60" cy="204.08" r="1.22" fill="#7745e1"/>
<circle cx="518.00" cy="202.78" r="1.22" fill="#9128cc"/>
<circle cx="518.00" cy="204.08" r="1.22" fill="#714be5"/>
<circle cx="518.00" cy="205.38" r="1.22" fill="#7943df"/>
<circle cx="519.40" cy="201.48" r="1.22" fill="#8239d8"/>
<circle cx="519.40" cy="202.78" r="1.22" fill="#9623c8"/>
<circle cx="519.40" cy="204.08" r="1.22" fill="#8239d8"/>
<circle cx="519.40" cy="205.38" r="1.22" fill="#ae15b0"/>
<circle cx="519.40" cy="206.68" r="1.22" fill="#9623c8"/>
<circle cx="519.40" cy="207.98" r="1.22" fill="#ae15b0"/>
<circle cx="520.70" cy="197.58" r="1.22" fill="#8239d8"/>
<circle cx="520.70" cy="198.88" r="1.22" fill="#db0080"/>
<circle cx="520.70" cy="200.18" r="1.22" fill="#db0080"/>
<circle cx="520.70" cy="201.48" r="1.22" fill="#db0080"/>
<circle cx="520.70" cy="202.78" r="1.22" fill="#ae15b0"/>
<circle cx="520.70" cy="204.08" r="1.22" fill="#9623c8"/>
<circle cx="520.70" cy="205.38" r="1.22" fill="#2877f7"/>
<circle cx="520.70" cy="206.68" r="1.22" fill="#9623c8"/>
<circle cx="520.70" cy="207.98" r="1.22" fill="#2877f7"/>
<circle cx="520.70" cy="209.28" r="1.22" fill="#8239d8"/>
<circle cx="522.00" cy="201.48" r="1.22" fill="#ae15b0"/>
<circle cx="522.00" cy="202.78" r="1.22" fill="#2877f7"/>
<circle cx="522.00" cy="204.08" r="1.22" fill="#9623c8"/>
<circle cx="522.00" cy="205.38" r="1.22" fill="#2877f7"/>
<circle cx="522.00" cy="206.68" r="1.22" fill="#2877f7"/>
<circle cx="523.30" cy="202.78" r="1.22" fill="#f6005d"/>
<circle cx="523.30" cy="204.08" r="1.22" fill="#a21cbc"/>
<circle cx="523.30" cy="205.38" r="1.22" fill="#e40074"/>
<circle cx="523.30" cy="206.68" r="1.22" fill="#a21cbc"/>
<circle cx="524.60" cy="201.48" r="1.22" fill="#f6005d"/>
<circle cx="524.60" cy="202.78" r="1.22" fill="#a21cbc"/>
<circle cx="524.60" cy="204.08" r="1.22" fill="#ff0051"/>
<circle cx="524.60" cy="205.38" r="1.22" fill="#a21cbc"/>
<circle cx="525.90" cy="202.78" r="1.22" fill="#f6005d"/>
<circle cx="525.90" cy="204.08" r="1.22" fill="#ff0051"/>
<circle cx="525.90" cy="205.38" r="1.22" fill="#f6005d"/>
<circle cx="527.20" cy="201.48" r="1.22" fill="#e40074"/>
<circle cx="527.20" cy="202.78" r="1.22" fill="#a21cbc"/>
<circle cx="527.20" cy="204.08" r="1.22" fill="#e40074"/>
<circle cx="527.20" cy="205.38" r="1.22" fill="#a21cbc"/>
<circle cx="528.50" cy="202.78" r="1.22" fill="#e40074"/>
<circle cx="528.50" cy="204.08" r="1.22" fill="#f6005d"/>
<circle cx="528.50" cy="205.38" r="1.22" fill="#a21cbc"/>
<circle cx="529.80" cy="202.78" r="1.22" fill="#e40074"/>
<circle cx="529.80" cy="204.08" r="1.22" fill="#e40074"/>
<circle cx="531.10" cy="202.78" r="1.22" fill="#f6005d"/>
<circle cx="531.10" cy="204.08" r="1.22" fill="#f6005d"/>
<circle cx="531.10" cy="205.38" r="1.22" fill="#e40074"/>
<circle cx="532.20" cy="204.08" r="1.22" fill="#e40074"/>
<circle cx="518.20" cy="220.45" r="1.22" fill="#1083f9"/>
<circle cx="518.20" cy="221.75" r="1.22" fill="#3073f6"/>
<circle cx="518.20" cy="223.05" r="1.22" fill="#3c6ef4"/>
<circle cx="519.50" cy="217.85" r="1.22" fill="#028afb"/>
<circle cx="519.50" cy="219.15" r="1.22" fill="#018afb"/>
<circle cx="519.50" cy="220.45" r="1.22" fill="#1e7cf8"/>
<circle cx="519.50" cy="221.75" r="1.22" fill="#3b6ef5"/>
<circle cx="519.50" cy="223.05" r="1.22" fill="#1f7cf8"/>
<circle cx="519.50" cy="224.35" r="1.22" fill="#0f84f9"/>
<circle cx="519.50" cy="225.65" r="1.22" fill="#1b7ef8"/>
<circle cx="519.50" cy="226.95" r="1.22" fill="#2778f7"/>
<circle cx="520.80" cy="215.25" r="1.22" fill="#2778f7"/>
<circle cx="520.80" cy="216.55" r="1.22" fill="#2778f7"/>
<circle cx="520.80" cy="217.85" r="1.22" fill="#217bf7"/>
<circle cx="520.80" cy="219.15" r="1.22" fill="#3571f5"/>
<circle cx="520.80" cy="220.45" r="1.22" fill="#3a6ef5"/>
<circle cx="520.80" cy="221.75" r="1.22" fill="#1282f9"/>
<circle cx="520.80" cy="223.05" r="1.22" fill="#0d85fa"/>
<circle cx="520.80" cy="224.35" r="1.22" fill="#0e84f9"/>
<circle cx="520.80" cy="225.65" r="1.22" fill="#0c85fa"/>
<circle cx="520.80" cy="226.95" r="1.22" fill="#3571f5"/>
<circle cx="522.30" cy="220.45" r="1.22" fill="#f5005e"/>
<circle cx="522.30" cy="221.75" r="1.22" fill="#e0007a"/>
<circle cx="522.30" cy="223.05" r="1.22" fill="#ff0051"/>
<circle cx="523.60" cy="222.04" r="1.22" fill="#f90059"/>
<circle cx="524.90" cy="220.45" r="1.22" fill="#dc0080"/>
<circle cx="524.90" cy="221.75" r="1.22" fill="#f20063"/>
<circle cx="526.20" cy="221.98" r="1.22" fill="#eb006c"/>
<circle cx="527.50" cy="220.45" r="1.22" fill="#dd007e"/>
<circle cx="527.50" cy="221.75" r="1.22" fill="#f30061"/>
<circle cx="527.50" cy="223.05" r="1.22" fill="#e9006e"/>
<circle cx="528.80" cy="220.45" r="1.22" fill="#ed0068"/>
<circle cx="528.80" cy="221.75" r="1.22" fill="#fe0052"/>
<circle cx="528.80" cy="223.05" r="1.22" fill="#f10064"/>
<circle cx="530.10" cy="221.87" r="1.22" fill="#dd007e"/>
<circle cx="531.40" cy="220.45" r="1.22" fill="#e20077"/>
<circle cx="531.40" cy="221.75" r="1.22" fill="#e50074"/>
<circle cx="532.70" cy="221.45" r="1.22" fill="#e8006f"/>
<circle cx="534.00" cy="221.65" r="1.22" fill="#fe0052"/>
<circle cx="515.30" cy="238.12" r="1.22" fill="#ed0069"/>
<circle cx="515.30" cy="239.42" r="1.22" fill="#e50073"/>
<circle cx="515.30" cy="240.72" r="1.22" fill="#fc0055"/>
<circle cx="516.60" cy="236.82" r="1.22" fill="#ea006d"/>
<circle cx="516.60" cy="238.12" r="1.22" fill="#e9006e"/>
<circle cx="516.60" cy="239.42" r="1.22" fill="#ed0069"/>
<circle cx="516.60" cy="240.72" r="1.22" fill="#e60071"/>
<circle cx="517.90" cy="238.12" r="1.22" fill="#ec006b"/>
<circle cx="517.90" cy="239.42" r="1.22" fill="#f6005d"/>
<circle cx="517.90" cy="240.72" r="1.22" fill="#eb006c"/>
<circle cx="519.20" cy="236.82" r="1.22" fill="#f90059"/>
<circle cx="519.20" cy="238.12" r="1.22" fill="#e60071"/>
<circle cx="519.20" cy="239.42" r="1.22" fill="#fa0057"/>
<circle cx="519.20" cy="240.72" r="1.22" fill="#e8006f"/>
<circle cx="519.20" cy="242.02" r="1.22" fill="#f40060"/>
<circle cx="520.50" cy="236.82" r="1.22" fill="#ef0066"/>
<circle cx="520.50" cy="238.12" r="1.22" fill="#ec006a"/>
<circle cx="520.50" cy="239.42" r="1.22" fill="#f5005e"/>
<circle cx="520.50" cy="240.72" r="1.22" fill="#e60071"/>
<circle cx="521.80" cy="235.52" r="1.22" fill="#b80fa6"/>
<circle cx="521.80" cy="236.82" r="1.22" fill="#b312ab"/>
<circle cx="521.80" cy="238.12" r="1.22" fill="#9227cb"/>
<circle cx="521.80" cy="239.42" r="1.22" fill="#b511a9"/>
<circle cx="521.80" cy="240.72" r="1.22" fill="#b014ae"/>
<circle cx="521.80" cy="242.02" r="1.22" fill="#a719b7"/>
<circle cx="521.80" cy="243.32" r="1.22" fill="#af15af"/>
<circle cx="521.80" cy="244.62" r="1.22" fill="#ad16b1"/>
<circle cx="523.10" cy="234.22" r="1.22" fill="#a21cbc"/>
<circle cx="523.10" cy="235.52" r="1.22" fill="#9822c6"/>
<circle cx="523.10" cy="236.82" r="1.22" fill="#a819b6"/>
<circle cx="523.10" cy="238.12" r="1.22" fill="#9228cb"/>
<circle cx="523.10" cy="239.42" r="1.22" fill="#b213ac"/>
<circle cx="523.10" cy="240.72" r="1.22" fill="#ac16b2"/>
<circle cx="523.10" cy="242.02" r="1.22" fill="#a31cbb"/>
<circle cx="524.40" cy="236.82" r="1.22" fill="#1a7ef8"/>
<circle cx="524.40" cy="238.12" r="1.22" fill="#2a76f6"/>
<circle cx="524.40" cy="239.42" r="1.22" fill="#1e7cf8"/>
<circle cx="524.40" cy="240.72" r="1.22" fill="#3770f5"/>
<circle cx="525.70" cy="236.82" r="1.22" fill="#2d75f6"/>
<circle cx="525.70" cy="238.12" r="1.22" fill="#227af7"/>
<circle cx="525.70" cy="239.42" r="1.22" fill="#3173f6"/>
<circle cx="525.70" cy="240.72" r="1.22" fill="#018bfb"/>
<circle cx="527.00" cy="238.12" r="1.22" fill="#2977f6"/>
<circle cx="527.00" cy="239.42" r="1.22" fill="#3074f6"/>
<circle cx="527.50" cy="239.42" r="1.22" fill="#ed0069"/>
<circle cx="527.50" cy="240.72" r="1.22" fill="#ed0069"/>
<circle cx="517.50" cy="255.79" r="1.22" fill="#1183f9"/>
<circle cx="517.50" cy="257.09" r="1.22" fill="#1780f8"/>
<circle cx="517.50" cy="258.39" r="1.22" fill="#0f83f9"/>
<circle cx="518.80" cy="253.19" r="1.22" fill="#028afb"/>
<circle cx="518.80" cy="254.49" r="1.22" fill="#018bfb"/>
<circle cx="518.80" cy="255.79" r="1.22" fill="#0f84f9"/>
<circle cx="518.80" cy="257.09" r="1.22" fill="#1780f8"/>
<circle cx="518.80" cy="258.39" r="1.22" fill="#0987fa"/>
<circle cx="518.80" cy="259.69" r="1.22" fill="#0b86fa"/>
<circle cx="520.10" cy="251.89" r="1.22" fill="#018afb"/>
<circle cx="520.10" cy="253.19" r="1.22" fill="#008bfb"/>
<circle cx="520.10" cy="254.49" r="1.22" fill="#0d85fa"/>
<circle cx="520.10" cy="255.79" r="1.22" fill="#0688fa"/>
<circle cx="520.10" cy="257.09" r="1.22" fill="#0688fa"/>
<circle cx="520.10" cy="258.39" r="1.22" fill="#0b86fa"/>
<circle cx="520.10" cy="259.69" r="1.22" fill="#028afb"/>
<circle cx="520.10" cy="260.99" r="1.22" fill="#1680f9"/>
<circle cx="521.40" cy="254.49" r="1.22" fill="#1680f9"/>
<circle cx="521.40" cy="255.79" r="1.22" fill="#028afb"/>
<circle cx="521.40" cy="257.09" r="1.22" fill="#0d85fa"/>
<circle cx="521.40" cy="258.39" r="1.22" fill="#1282f9"/>
<circle cx="521.40" cy="259.69" r="1.22" fill="#0b85fa"/>
<circle cx="521.40" cy="260.99" r="1.22" fill="#1381f9"/>
<circle cx="522.70" cy="254.49" r="1.22" fill="#f30060"/>
<circle cx="522.70" cy="255.79" r="1.22" fill="#e8006f"/>
<circle cx="522.70" cy="257.09" r="1.22" fill="#f20063"/>
<circle cx="522.70" cy="258.39" r="1.22" fill="#e8006f"/>
<circle cx="524.00" cy="255.79" r="1.22" fill="#f00065"/>
<circle cx="524.00" cy="257.09" r="1.22" fill="#ec006a"/>
<circle cx="524.00" cy="258.39" r="1.22" fill="#f30060"/>
<circle cx="525.30" cy="255.79" r="1.22" fill="#8436d6"/>
<circle cx="525.30" cy="257.09" r="1.22" fill="#9f1ebf"/>
<circle cx="526.60" cy="255.79" r="1.22" fill="#8b30d1"/>
<circle cx="526.60" cy="257.09" r="1.22" fill="#8337d7"/>
<circle cx="526.60" cy="258.39" r="1.22" fill="#9524c9"/>
<circle cx="527.90" cy="256.91" r="1.22" fill="#9425ca"/>
<circle cx="529.20" cy="256.99" r="1.22" fill="#9623c8"/>
<circle cx="530.50" cy="257.21" r="1.22" fill="#9525c9"/>
<circle cx="518.30" cy="272.16" r="1.22" fill="#d70086"/>
<circle cx="518.30" cy="273.46" r="1.22" fill="#e30075"/>
<circle cx="518.30" cy="274.76" r="1.22" fill="#e30075"/>
<circle cx="518.30" cy="276.06" r="1.22" fill="#f5005e"/>
<circle cx="518.30" cy="277.36" r="1.22" fill="#d60087"/>
<circle cx="518.30" cy="278.66" r="1.22" fill="#da0082"/>
<circle cx="519.60" cy="269.56" r="1.22" fill="#e40075"/>
<circle cx="519.60" cy="270.86" r="1.22" fill="#ec006b"/>
<circle cx="519.60" cy="272.16" r="1.22" fill="#dc007f"/>
<circle cx="519.60" cy="273.46" r="1.22" fill="#e30076"/>
<circle cx="519.60" cy="274.76" r="1.22" fill="#ee0068"/>
<circle cx="519.60" cy="276.06" r="1.22" fill="#f6005d"/>
<circle cx="519.60" cy="277.36" r="1.22" fill="#e60072"/>
<circle cx="519.60" cy="278.66" r="1.22" fill="#dd007d"/>
<circle cx="519.60" cy="279.96" r="1.22" fill="#d50088"/>
<circle cx="519.60" cy="281.26" r="1.22" fill="#e30076"/>
<circle cx="520.90" cy="270.86" r="1.22" fill="#dc007e"/>
<circle cx="520.90" cy="272.16" r="1.22" fill="#d50088"/>
<circle cx="520.90" cy="273.46" r="1.22" fill="#e40074"/>
<circle cx="520.90" cy="274.76" r="1.22" fill="#f6005d"/>
<circle cx="520.90" cy="276.06" r="1.22" fill="#f6005d"/>
<circle cx="520.90" cy="277.36" r="1.22" fill="#e0007a"/>
<circle cx="520.90" cy="278.66" r="1.22" fill="#f30061"/>
<circle cx="522.20" cy="273.46" r="1.22" fill="#4a67f3"/>
<circle cx="522.20" cy="274.76" r="1.22" fill="#0688fa"/>
<circle cx="523.50" cy="273.46" r="1.22" fill="#0787fa"/>
<circle cx="523.50" cy="274.76" r="1.22" fill="#3c6ef4"/>
<circle cx="523.50" cy="276.06" r="1.22" fill="#1581f9"/>
<circle cx="524.80" cy="274.68" r="1.22" fill="#3073f6"/>
<circle cx="526.10" cy="273.46" r="1.22" fill="#3372f5"/>
<circle cx="526.10" cy="274.76" r="1.22" fill="#1680f9"/>
<circle cx="527.40" cy="274.53" r="1.22" fill="#1d7df8"/>
<circle cx="528.70" cy="274.76" r="1.22" fill="#4669f3"/>
<circle cx="530.00" cy="274.70" r="1.22" fill="#0d85fa"/>
<circle cx="531.40" cy="275.03" r="1.22" fill="#3770f5"/>
<circle cx="493.50" cy="292.43" r="1.22" fill="#7745e1"/>
<circle cx="495.10" cy="292.43" r="1.22" fill="#6954ec"/>
<circle cx="496.70" cy="292.43" r="1.22" fill="#6756ed"/>
<circle cx="498.30" cy="292.43" r="1.22" fill="#6856ed"/>
<circle cx="499.90" cy="292.43" r="1.22" fill="#803cda"/>
<circle cx="501.50" cy="292.43" r="1.22" fill="#5163f2"/>
<circle cx="503.30" cy="291.13" r="1.22" fill="#f6005d"/>
<circle cx="503.30" cy="292.43" r="1.22" fill="#f6005d"/>
<circle cx="505.00" cy="291.13" r="1.22" fill="#7844e0"/>
<circle cx="505.00" cy="292.43" r="1.22" fill="#9623c8"/>
<circle cx="505.00" cy="293.73" r="1.22" fill="#9623c8"/>
<circle cx="506.50" cy="288.53" r="1.22" fill="#ff0051"/>
<circle cx="506.50" cy="289.83" r="1.22" fill="#7844e0"/>
<circle cx="506.50" cy="291.13" r="1.22" fill="#008bfb"/>
<circle cx="506.50" cy="292.43" r="1.22" fill="#ae15b0"/>
<circle cx="506.50" cy="293.73" r="1.22" fill="#ae15b0"/>
<circle cx="506.50" cy="295.03" r="1.22" fill="#ae15b0"/>
<circle cx="506.50" cy="296.33" r="1.22" fill="#f6005d"/>
<circle cx="508.00" cy="289.83" r="1.22" fill="#7844e0"/>
<circle cx="508.00" cy="291.13" r="1.22" fill="#ae15b0"/>
<circle cx="508.00" cy="292.43" r="1.22" fill="#9623c8"/>
<circle cx="508.00" cy="293.73" r="1.22" fill="#9623c8"/>
<circle cx="508.00" cy="295.03" r="1.22" fill="#008bfb"/>
<circle cx="509.50" cy="292.43" r="1.22" fill="#ff0051"/>
<circle cx="511.00" cy="289.83" r="1.22" fill="#9623c8"/>
<circle cx="511.00" cy="291.13" r="1.22" fill="#5064f2"/>
<circle cx="511.00" cy="292.43" r="1.22" fill="#f6005d"/>
<circle cx="511.00" cy="293.73" r="1.22" fill="#f6005d"/>
<circle cx="512.50" cy="287.23" r="1.22" fill="#7844e0"/>
<circle cx="512.50" cy="288.53" r="1.22" fill="#1481f9"/>
<circle cx="512.50" cy="289.83" r="1.22" fill="#9623c8"/>
<circle cx="512.50" cy="291.13" r="1.22" fill="#7844e0"/>
<circle cx="512.50" cy="292.43" r="1.22" fill="#ae15b0"/>
<circle cx="512.50" cy="293.73" r="1.22" fill="#ae15b0"/>
<circle cx="512.50" cy="295.03" r="1.22" fill="#db0080"/>
<circle cx="512.50" cy="296.33" r="1.22" fill="#ae15b0"/>
<circle cx="512.50" cy="297.63" r="1.22" fill="#9623c8"/>
<circle cx="514.00" cy="289.83" r="1.22" fill="#008bfb"/>
<circle cx="514.00" cy="291.13" r="1.22" fill="#5064f2"/>
<circle cx="514.00" cy="292.43" r="1.22" fill="#008bfb"/>
<circle cx="514.00" cy="293.73" r="1.22" fill="#ae15b0"/>
<circle cx="514.00" cy="295.03" r="1.22" fill="#db0080"/>
<circle cx="515.50" cy="291.13" r="1.22" fill="#ff0051"/>
<circle cx="515.50" cy="292.43" r="1.22" fill="#db0080"/>
<circle cx="515.50" cy="293.73" r="1.22" fill="#008bfb"/>
<circle cx="517.00" cy="289.83" r="1.22" fill="#1481f9"/>
<circle cx="517.00" cy="291.13" r="1.22" fill="#ae15b0"/>
<circle cx="517.00" cy="292.43" r="1.22" fill="#f6005d"/>
<circle cx="517.00" cy="293.73" r="1.22" fill="#db0080"/>
<circle cx="518.50" cy="288.53" r="1.22" fill="#db0080"/>
<circle cx="518.50" cy="289.83" r="1.22" fill="#7844e0"/>
<circle cx="518.50" cy="291.13" r="1.22" fill="#1481f9"/>
<circle cx="518.50" cy="292.43" r="1.22" fill="#7844e0"/>
<circle cx="518.50" cy="293.73" r="1.22" fill="#5064f2"/>
<circle cx="518.50" cy="295.03" r="1.22" fill="#5064f2"/>
<circle cx="518.50" cy="296.33" r="1.22" fill="#f6005d"/>
<circle cx="520.00" cy="288.53" r="1.22" fill="#1481f9"/>
<circle cx="520.00" cy="289.83" r="1.22" fill="#db0080"/>
<circle cx="520.00" cy="291.13" r="1.22" fill="#1481f9"/>
<circle cx="520.00" cy="292.43" r="1.22" fill="#f6005d"/>
<circle cx="520.00" cy="293.73" r="1.22" fill="#008bfb"/>
<circle cx="520.00" cy="295.03" r="1.22" fill="#008bfb"/>
<circle cx="520.00" cy="296.33" r="1.22" fill="#5064f2"/>
<circle cx="521.50" cy="291.13" r="1.22" fill="#7844e0"/>
<circle cx="521.50" cy="292.43" r="1.22" fill="#ff0051"/>
<circle cx="521.50" cy="293.73" r="1.22" fill="#008bfb"/>
<circle cx="521.50" cy="295.03" r="1.22" fill="#9623c8"/>
<circle cx="523.00" cy="291.13" r="1.22" fill="#5064f2"/>
<circle cx="523.00" cy="292.43" r="1.22" fill="#9623c8"/>
<circle cx="523.00" cy="293.73" r="1.22" fill="#f6005d"/>
<circle cx="523.00" cy="295.03" r="1.22" fill="#ae15b0"/>
<circle cx="524.50" cy="287.23" r="1.22" fill="#1481f9"/>
<circle cx="524.50" cy="288.53" r="1.22" fill="#1481f9"/>
<circle cx="524.50" cy="289.83" r="1.22" fill="#1481f9"/>
<circle cx="524.50" cy="291.13" r="1.22" fill="#9623c8"/>
<circle cx="524.50" cy="292.43" r="1.22" fill="#f6005d"/>
<circle cx="524.50" cy="293.73" r="1.22" fill="#ff0051"/>
<circle cx="524.50" cy="295.03" r="1.22" fill="#7844e0"/>
<circle cx="524.50" cy="296.33" r="1.22" fill="#ae15b0"/>
<circle cx="526.00" cy="288.53" r="1.22" fill="#9623c8"/>
<circle cx="526.00" cy="289.83" r="1.22" fill="#7844e0"/>
<circle cx="526.00" cy="291.13" r="1.22" fill="#ff0051"/>
<circle cx="526.00" cy="292.43" r="1.22" fill="#008bfb"/>
<circle cx="526.00" cy="293.73" r="1.22" fill="#008bfb"/>
<circle cx="526.00" cy="295.03" r="1.22" fill="#f6005d"/>
<circle cx="526.00" cy="296.33" r="1.22" fill="#9623c8"/>
<circle cx="527.50" cy="289.83" r="1.22" fill="#db0080"/>
<circle cx="527.50" cy="291.13" r="1.22" fill="#9623c8"/>
<circle cx="527.50" cy="292.43" r="1.22" fill="#9623c8"/>
<circle cx="527.50" cy="293.73" r="1.22" fill="#7844e0"/>
<circle cx="529.00" cy="288.53" r="1.22" fill="#db0080"/>
<circle cx="529.00" cy="289.83" r="1.22" fill="#f6005d"/>
<circle cx="529.00" cy="291.13" r="1.22" fill="#7844e0"/>
<circle cx="529.00" cy="292.43" r="1.22" fill="#f6005d"/>
<circle cx="529.00" cy="293.73" r="1.22" fill="#7844e0"/>
<circle cx="529.00" cy="295.03" r="1.22" fill="#008bfb"/>
<circle cx="529.00" cy="296.33" r="1.22" fill="#ae15b0"/>
<circle cx="530.50" cy="289.83" r="1.22" fill="#9623c8"/>
<circle cx="530.50" cy="291.13" r="1.22" fill="#008bfb"/>
<circle cx="530.50" cy="292.43" r="1.22" fill="#008bfb"/>
<circle cx="530.50" cy="293.73" r="1.22" fill="#7844e0"/>
<circle cx="530.50" cy="295.03" r="1.22" fill="#db0080"/>
<circle cx="532.00" cy="289.83" r="1.22" fill="#ae15b0"/>
<circle cx="532.00" cy="291.13" r="1.22" fill="#1481f9"/>
<circle cx="532.00" cy="292.43" r="1.22" fill="#9623c8"/>
<circle cx="532.00" cy="293.73" r="1.22" fill="#7844e0"/>
<circle cx="533.50" cy="289.83" r="1.22" fill="#ae15b0"/>
<circle cx="533.50" cy="291.13" r="1.22" fill="#9623c8"/>
<circle cx="533.50" cy="292.43" r="1.22" fill="#7844e0"/>
<circle cx="533.50" cy="293.73" r="1.22" fill="#db0080"/>
<circle cx="536.50" cy="292.43" r="1.22" fill="#9623c8"/>
<circle cx="538.00" cy="291.13" r="1.22" fill="#ed0069"/>
<circle cx="538.00" cy="292.43" r="1.22" fill="#9623c8"/>
<circle cx="538.00" cy="293.73" r="1.22" fill="#ed0069"/>
<circle cx="539.50" cy="292.43" r="1.22" fill="#9623c8"/>
<circle cx="541.50" cy="292.43" r="1.22" fill="#1481f9"/>
<circle cx="544.50" cy="292.43" r="1.22" fill="#6e4fe8"/>
<circle cx="546.00" cy="292.43" r="1.22" fill="#6e4fe8"/>
<circle cx="550.00" cy="292.43" r="1.22" fill="#6e4fe8"/>
<circle cx="553.50" cy="292.43" r="1.22" fill="#9623c8"/>
<circle cx="556.00" cy="292.43" r="1.22" fill="#ed0069"/>
<circle cx="560.50" cy="292.43" r="1.22" fill="#6e4fe8"/>
<circle cx="561.50" cy="292.43" r="1.22" fill="#1481f9"/>
<circle cx="570.50" cy="292.43" r="1.22" fill="#6e4fe8"/>
<line x1="450.7" y1="310.5" x2="666.5" y2="310.5" stroke="#555555" stroke-width="1"/>
<line x1="474.50" y1="310.5" x2="474.50" y2="313.0" stroke="#555555" stroke-width="0.8"/>
<text x="473.30" y="321.0" font-size="8.2" text-anchor="middle" fill="#333333">−5</text>
<line x1="521.50" y1="310.5" x2="521.50" y2="313.0" stroke="#555555" stroke-width="0.8"/>
<text x="521.50" y="321.0" font-size="8.2" text-anchor="middle" fill="#333333">0</text>
<line x1="568.50" y1="310.5" x2="568.50" y2="313.0" stroke="#555555" stroke-width="0.8"/>
<text x="568.50" y="321.0" font-size="8.2" text-anchor="middle" fill="#333333">5</text>
<line x1="615.50" y1="310.5" x2="615.50" y2="313.0" stroke="#555555" stroke-width="0.8"/>
<text x="615.50" y="321.0" font-size="8.2" text-anchor="middle" fill="#333333">10</text>
<line x1="662.50" y1="310.5" x2="662.50" y2="313.0" stroke="#555555" stroke-width="0.8"/>
<text x="662.50" y="321.0" font-size="8.2" text-anchor="middle" fill="#333333">15</text>
<text x="375.2" y="136.9" font-size="8.9" textLength="60.7" lengthAdjust="spacingAndGlyphs" fill="#333333" >mfq_day1_total</text>
<text x="368.5" y="154.6" font-size="8.9" textLength="67.4" lengthAdjust="spacingAndGlyphs" fill="#333333" >CESD_day1_Total</text>
<text x="355.2" y="172.3" font-size="8.9" textLength="80.7" lengthAdjust="spacingAndGlyphs" fill="#333333" >masc_day1_physical</text>
<text x="340.4" y="189.9" font-size="8.9" textLength="95.5" lengthAdjust="spacingAndGlyphs" fill="#333333" >r_caudate_antwinsvneut</text>
<text x="354.2" y="207.6" font-size="8.9" textLength="81.7" lengthAdjust="spacingAndGlyphs" fill="#333333" >PRT_RewardLearning</text>
<text x="363.1" y="225.3" font-size="8.9" textLength="72.8" lengthAdjust="spacingAndGlyphs" fill="#333333" >SHAPS_Day1_Total</text>
<text x="387.2" y="242.9" font-size="8.9" textLength="48.7" lengthAdjust="spacingAndGlyphs" fill="#333333" >NEO_day1_E</text>
<text x="363.1" y="261.8" font-size="8.9" textLength="72.8" lengthAdjust="spacingAndGlyphs" fill="#333333" >mfq_day1_pr_total</text>
<text x="337.1" y="279.3" font-size="8.9" textLength="98.8" lengthAdjust="spacingAndGlyphs" fill="#333333" >r_putamen_antwinsvneut</text>
<text x="337.4" y="296.7" font-size="8.9" textLength="98.5" lengthAdjust="spacingAndGlyphs" fill="#333333" >Sum of 32 other features</text>
<text x="484.2" y="331.3" font-size="9.2" textLength="148.1" lengthAdjust="spacingAndGlyphs" fill="#333333" >SHAP value (impact on model output)</text>
<defs><linearGradient id="gA" x1="0" y1="0" x2="0" y2="1"><stop offset="0" stop-color="#ff0051"/><stop offset="0.25" stop-color="#d2008c"/><stop offset="0.5" stop-color="#9623c8"/><stop offset="0.75" stop-color="#645af0"/><stop offset="1" stop-color="#008bfb"/></linearGradient></defs>
<rect x="679.55" y="115" width="2.5" height="195" fill="url(#gA)"/>
<text x="684.6" y="118.4" font-size="8.5" textLength="14.6" lengthAdjust="spacingAndGlyphs" fill="#333333" >High</text>
<text x="684.7" y="314.0" font-size="8.5" textLength="12.6" lengthAdjust="spacingAndGlyphs" fill="#333333" >Low</text>
<text transform="translate(704.6,239.6) rotate(-90)" x="0" y="0" font-size="8.8" textLength="51.599999999999994" lengthAdjust="spacingAndGlyphs" fill="#333333">Feature value</text>
<line x1="482.5" y1="564.40" x2="735.5" y2="564.40" stroke="#f2f2f2" stroke-width="0.6" stroke-dasharray="1.5 2"/>
<line x1="482.5" y1="584.00" x2="735.5" y2="584.00" stroke="#f2f2f2" stroke-width="0.6" stroke-dasharray="1.5 2"/>
<line x1="482.5" y1="603.60" x2="735.5" y2="603.60" stroke="#f2f2f2" stroke-width="0.6" stroke-dasharray="1.5 2"/>
<line x1="482.5" y1="623.20" x2="735.5" y2="623.20" stroke="#f2f2f2" stroke-width="0.6" stroke-dasharray="1.5 2"/>
<line x1="482.5" y1="642.80" x2="735.5" y2="642.80" stroke="#f2f2f2" stroke-width="0.6" stroke-dasharray="1.5 2"/>
<line x1="482.5" y1="662.40" x2="735.5" y2="662.40" stroke="#f2f2f2" stroke-width="0.6" stroke-dasharray="1.5 2"/>
<line x1="482.5" y1="682.00" x2="735.5" y2="682.00" stroke="#f2f2f2" stroke-width="0.6" stroke-dasharray="1.5 2"/>
<line x1="482.5" y1="701.60" x2="735.5" y2="701.60" stroke="#f2f2f2" stroke-width="0.6" stroke-dasharray="1.5 2"/>
<line x1="482.5" y1="721.20" x2="735.5" y2="721.20" stroke="#f2f2f2" stroke-width="0.6" stroke-dasharray="1.5 2"/>
<line x1="482.5" y1="740.80" x2="735.5" y2="740.80" stroke="#f2f2f2" stroke-width="0.6" stroke-dasharray="1.5 2"/>
<line x1="569.6" y1="545.1" x2="569.6" y2="761.3" stroke="#a0a0a0" stroke-width="0.9"/>
<circle cx="493.00" cy="564.40" r="1.22" fill="#018afb"/>
<circle cx="494.50" cy="563.10" r="1.22" fill="#018bfb"/>
<circle cx="494.50" cy="564.40" r="1.22" fill="#0e84f9"/>
<circle cx="496.30" cy="560.50" r="1.22" fill="#0a86fa"/>
<circle cx="496.30" cy="561.80" r="1.22" fill="#1183f9"/>
<circle cx="496.30" cy="563.10" r="1.22" fill="#0489fb"/>
<circle cx="496.30" cy="564.40" r="1.22" fill="#0b86fa"/>
<circle cx="496.30" cy="565.70" r="1.22" fill="#1183f9"/>
<circle cx="496.30" cy="567.00" r="1.22" fill="#0887fa"/>
<circle cx="497.80" cy="564.40" r="1.22" fill="#038afb"/>
<circle cx="497.80" cy="565.70" r="1.22" fill="#028afb"/>
<circle cx="499.30" cy="563.10" r="1.22" fill="#0489fb"/>
<circle cx="499.30" cy="564.40" r="1.22" fill="#0589fa"/>
<circle cx="499.30" cy="565.70" r="1.22" fill="#1083f9"/>
<circle cx="500.80" cy="563.10" r="1.22" fill="#0d85fa"/>
<circle cx="500.80" cy="564.40" r="1.22" fill="#0b86fa"/>
<circle cx="502.30" cy="560.50" r="1.22" fill="#0787fa"/>
<circle cx="502.30" cy="561.80" r="1.22" fill="#1182f9"/>
<circle cx="502.30" cy="563.10" r="1.22" fill="#1481f9"/>
<circle cx="502.30" cy="564.40" r="1.22" fill="#187ff8"/>
<circle cx="502.30" cy="565.70" r="1.22" fill="#0b86fa"/>
<circle cx="502.30" cy="567.00" r="1.22" fill="#038afb"/>
<circle cx="503.80" cy="563.10" r="1.22" fill="#028afb"/>
<circle cx="503.80" cy="564.40" r="1.22" fill="#028afb"/>
<circle cx="503.80" cy="565.70" r="1.22" fill="#0a86fa"/>
<circle cx="503.80" cy="567.00" r="1.22" fill="#1581f9"/>
<circle cx="505.30" cy="559.20" r="1.22" fill="#0d84fa"/>
<circle cx="505.30" cy="560.50" r="1.22" fill="#1282f9"/>
<circle cx="505.30" cy="561.80" r="1.22" fill="#0987fa"/>
<circle cx="505.30" cy="563.10" r="1.22" fill="#1282f9"/>
<circle cx="505.30" cy="564.40" r="1.22" fill="#0787fa"/>
<circle cx="505.30" cy="565.70" r="1.22" fill="#1382f9"/>
<circle cx="505.30" cy="567.00" r="1.22" fill="#028afb"/>
<circle cx="505.30" cy="568.30" r="1.22" fill="#1183f9"/>
<circle cx="505.30" cy="569.60" r="1.22" fill="#0589fa"/>
<circle cx="505.30" cy="570.90" r="1.22" fill="#0d85fa"/>
<circle cx="506.80" cy="560.50" r="1.22" fill="#0b86fa"/>
<circle cx="506.80" cy="561.80" r="1.22" fill="#0887fa"/>
<circle cx="506.80" cy="563.10" r="1.22" fill="#1282f9"/>
<circle cx="506.80" cy="564.40" r="1.22" fill="#0b85fa"/>
<circle cx="506.80" cy="565.70" r="1.22" fill="#0f84f9"/>
<circle cx="506.80" cy="567.00" r="1.22" fill="#0688fa"/>
<circle cx="506.80" cy="568.30" r="1.22" fill="#0f84f9"/>
<circle cx="508.30" cy="563.10" r="1.22" fill="#0a86fa"/>
<circle cx="508.30" cy="564.40" r="1.22" fill="#0987fa"/>
<circle cx="508.30" cy="565.70" r="1.22" fill="#0b86fa"/>
<circle cx="508.30" cy="567.00" r="1.22" fill="#1382f9"/>
<circle cx="509.80" cy="563.10" r="1.22" fill="#018afb"/>
<circle cx="509.80" cy="564.40" r="1.22" fill="#0589fa"/>
<circle cx="511.50" cy="560.50" r="1.22" fill="#028afb"/>
<circle cx="511.50" cy="561.80" r="1.22" fill="#0f84f9"/>
<circle cx="511.50" cy="563.10" r="1.22" fill="#0987fa"/>
<circle cx="511.50" cy="564.40" r="1.22" fill="#0887fa"/>
<circle cx="511.50" cy="565.70" r="1.22" fill="#1780f8"/>
<circle cx="511.50" cy="567.00" r="1.22" fill="#018afb"/>
<circle cx="511.50" cy="568.30" r="1.22" fill="#1282f9"/>
<circle cx="513.00" cy="561.80" r="1.22" fill="#1183f9"/>
<circle cx="513.00" cy="563.10" r="1.22" fill="#1680f9"/>
<circle cx="513.00" cy="564.40" r="1.22" fill="#0788fa"/>
<circle cx="513.00" cy="565.70" r="1.22" fill="#1183f9"/>
<circle cx="513.00" cy="567.00" r="1.22" fill="#0e84f9"/>
<circle cx="513.00" cy="568.30" r="1.22" fill="#1382f9"/>
<circle cx="514.50" cy="564.40" r="1.22" fill="#1780f9"/>
<circle cx="514.50" cy="565.70" r="1.22" fill="#028afb"/>
<circle cx="516.00" cy="561.80" r="1.22" fill="#1481f9"/>
<circle cx="516.00" cy="563.10" r="1.22" fill="#038afb"/>
<circle cx="516.00" cy="564.40" r="1.22" fill="#1183f9"/>
<circle cx="516.00" cy="565.70" r="1.22" fill="#0b86fa"/>
<circle cx="516.00" cy="567.00" r="1.22" fill="#1382f9"/>
<circle cx="517.50" cy="563.10" r="1.22" fill="#1382f9"/>
<circle cx="517.50" cy="564.40" r="1.22" fill="#1680f9"/>
<circle cx="519.00" cy="564.40" r="1.22" fill="#0389fb"/>
<circle cx="524.10" cy="564.40" r="1.22" fill="#008bfb"/>
<circle cx="531.00" cy="563.10" r="1.22" fill="#704de7"/>
<circle cx="531.00" cy="564.40" r="1.22" fill="#5163f2"/>
<circle cx="531.00" cy="565.70" r="1.22" fill="#6856ed"/>
<circle cx="532.50" cy="564.40" r="1.22" fill="#4c66f3"/>
<circle cx="535.00" cy="564.40" r="1.22" fill="#5b5ef1"/>
<circle cx="538.00" cy="563.10" r="1.22" fill="#6b53eb"/>
<circle cx="538.00" cy="564.40" r="1.22" fill="#645af0"/>
<circle cx="538.00" cy="565.70" r="1.22" fill="#5f5df1"/>
<circle cx="539.50" cy="563.10" r="1.22" fill="#5761f1"/>
<circle cx="539.50" cy="564.40" r="1.22" fill="#4768f3"/>
<circle cx="539.50" cy="565.70" r="1.22" fill="#5860f1"/>
<circle cx="542.00" cy="564.40" r="1.22" fill="#5d5ef1"/>
<circle cx="545.00" cy="564.40" r="1.22" fill="#4768f3"/>
<circle cx="548.00" cy="564.40" r="1.22" fill="#436af4"/>
<circle cx="551.00" cy="564.40" r="1.22" fill="#6559ef"/>
<circle cx="554.00" cy="564.40" r="1.22" fill="#5960f1"/>
<circle cx="557.00" cy="564.40" r="1.22" fill="#714ce6"/>
<circle cx="569.80" cy="564.40" r="1.22" fill="#7844e0"/>
<circle cx="579.00" cy="564.40" r="1.22" fill="#9623c8"/>
<circle cx="585.00" cy="564.40" r="1.22" fill="#9f1ebf"/>
<circle cx="587.20" cy="564.40" r="1.22" fill="#9722c7"/>
<circle cx="589.40" cy="564.40" r="1.22" fill="#9c1fc2"/>
<circle cx="591.60" cy="564.40" r="1.22" fill="#9228cb"/>
<circle cx="593.80" cy="564.40" r="1.22" fill="#9128cc"/>
<circle cx="596.00" cy="564.40" r="1.22" fill="#9128cc"/>
<circle cx="628.20" cy="563.10" r="1.22" fill="#ba0ea4"/>
<circle cx="628.20" cy="564.40" r="1.22" fill="#ba0ea4"/>
<circle cx="645.50" cy="564.40" r="1.22" fill="#e9006e"/>
<circle cx="647.00" cy="563.10" r="1.22" fill="#ea006c"/>
<circle cx="647.00" cy="564.40" r="1.22" fill="#ec006a"/>
<circle cx="648.50" cy="564.40" r="1.22" fill="#e9006e"/>
<circle cx="650.30" cy="564.40" r="1.22" fill="#eb006b"/>
<circle cx="656.00" cy="564.40" r="1.22" fill="#c90695"/>
<circle cx="657.50" cy="563.10" r="1.22" fill="#d4008a"/>
<circle cx="657.50" cy="564.40" r="1.22" fill="#a01dbe"/>
<circle cx="657.50" cy="565.70" r="1.22" fill="#c3099b"/>
<circle cx="659.00" cy="564.40" r="1.22" fill="#9623c8"/>
<circle cx="660.50" cy="563.10" r="1.22" fill="#e50074"/>
<circle cx="660.50" cy="564.40" r="1.22" fill="#ac16b2"/>
<circle cx="662.00" cy="564.40" r="1.22" fill="#ba0ea4"/>
<circle cx="663.50" cy="563.10" r="1.22" fill="#e40074"/>
<circle cx="663.50" cy="564.40" r="1.22" fill="#ac16b2"/>
<circle cx="663.50" cy="565.70" r="1.22" fill="#9b20c3"/>
<circle cx="665.00" cy="564.40" r="1.22" fill="#e10079"/>
<circle cx="666.50" cy="563.10" r="1.22" fill="#a918b5"/>
<circle cx="666.50" cy="564.40" r="1.22" fill="#9d1fc1"/>
<circle cx="668.00" cy="564.40" r="1.22" fill="#a719b7"/>
<circle cx="672.50" cy="564.40" r="1.22" fill="#f6005d"/>
<circle cx="676.50" cy="564.40" r="1.22" fill="#f6005d"/>
<circle cx="690.50" cy="564.40" r="1.22" fill="#f6005d"/>
<circle cx="716.00" cy="564.40" r="1.22" fill="#f6005d"/>
<circle cx="678.00" cy="563.10" r="1.22" fill="#a21cbc"/>
<circle cx="678.00" cy="564.40" r="1.22" fill="#a21cbc"/>
<circle cx="678.00" cy="565.70" r="1.22" fill="#a21cbc"/>
<circle cx="684.50" cy="564.40" r="1.22" fill="#a21cbc"/>
<circle cx="699.60" cy="564.40" r="1.22" fill="#a21cbc"/>
<circle cx="549.50" cy="584.00" r="1.22" fill="#008bfb"/>
<circle cx="551.20" cy="584.00" r="1.22" fill="#008bfb"/>
<circle cx="552.60" cy="582.70" r="1.22" fill="#008bfb"/>
<circle cx="552.60" cy="584.00" r="1.22" fill="#008bfb"/>
<circle cx="554.00" cy="584.00" r="1.22" fill="#008bfb"/>
<circle cx="555.40" cy="582.70" r="1.22" fill="#8239d8"/>
<circle cx="555.40" cy="584.00" r="1.22" fill="#9623c8"/>
<circle cx="555.40" cy="585.30" r="1.22" fill="#9623c8"/>
<circle cx="556.80" cy="582.70" r="1.22" fill="#008bfb"/>
<circle cx="556.80" cy="584.00" r="1.22" fill="#008bfb"/>
<circle cx="556.80" cy="585.30" r="1.22" fill="#1481f9"/>
<circle cx="558.20" cy="581.40" r="1.22" fill="#2877f7"/>
<circle cx="558.20" cy="582.70" r="1.22" fill="#9623c8"/>
<circle cx="558.20" cy="584.00" r="1.22" fill="#1481f9"/>
<circle cx="558.20" cy="585.30" r="1.22" fill="#008bfb"/>
<circle cx="558.20" cy="586.60" r="1.22" fill="#8239d8"/>
<circle cx="559.60" cy="578.80" r="1.22" fill="#1481f9"/>
<circle cx="559.60" cy="580.10" r="1.22" fill="#008bfb"/>
<circle cx="559.60" cy="581.40" r="1.22" fill="#008bfb"/>
<circle cx="559.60" cy="582.70" r="1.22" fill="#008bfb"/>
<circle cx="559.60" cy="584.00" r="1.22" fill="#2877f7"/>
<circle cx="559.60" cy="585.30" r="1.22" fill="#8239d8"/>
<circle cx="559.60" cy="586.60" r="1.22" fill="#2877f7"/>
<circle cx="559.60" cy="587.90" r="1.22" fill="#008bfb"/>
<circle cx="559.60" cy="589.20" r="1.22" fill="#2877f7"/>
<circle cx="559.60" cy="590.50" r="1.22" fill="#008bfb"/>
<circle cx="561.00" cy="580.10" r="1.22" fill="#2877f7"/>
<circle cx="561.00" cy="581.40" r="1.22" fill="#9623c8"/>
<circle cx="561.00" cy="582.70" r="1.22" fill="#8239d8"/>
<circle cx="561.00" cy="584.00" r="1.22" fill="#008bfb"/>
<circle cx="561.00" cy="585.30" r="1.22" fill="#9623c8"/>
<circle cx="561.00" cy="586.60" r="1.22" fill="#8239d8"/>
<circle cx="561.00" cy="587.90" r="1.22" fill="#008bfb"/>
<circle cx="562.40" cy="581.40" r="1.22" fill="#9623c8"/>
<circle cx="562.40" cy="582.70" r="1.22" fill="#008bfb"/>
<circle cx="562.40" cy="584.00" r="1.22" fill="#2877f7"/>
<circle cx="562.40" cy="585.30" r="1.22" fill="#9623c8"/>
<circle cx="563.80" cy="582.70" r="1.22" fill="#1481f9"/>
<circle cx="563.80" cy="584.00" r="1.22" fill="#2877f7"/>
<circle cx="563.80" cy="585.30" r="1.22" fill="#1481f9"/>
<circle cx="565.20" cy="584.00" r="1.22" fill="#2877f7"/>
<circle cx="570.00" cy="584.45" r="1.22" fill="#c4089a"/>
<circle cx="572.10" cy="584.07" r="1.22" fill="#c90595"/>
<circle cx="574.20" cy="583.92" r="1.22" fill="#f4005f"/>
<circle cx="576.30" cy="584.50" r="1.22" fill="#c90595"/>
<circle cx="578.40" cy="583.70" r="1.22" fill="#e9006e"/>
<circle cx="580.50" cy="583.70" r="1.22" fill="#a31cbb"/>
<circle cx="582.60" cy="584.40" r="1.22" fill="#d0018e"/>
<circle cx="584.70" cy="584.32" r="1.22" fill="#ce0290"/>
<circle cx="586.80" cy="584.38" r="1.22" fill="#d3008a"/>
<circle cx="588.90" cy="583.66" r="1.22" fill="#a41bba"/>
<circle cx="591.00" cy="584.05" r="1.22" fill="#e20077"/>
<circle cx="593.10" cy="584.41" r="1.22" fill="#ac16b2"/>
<circle cx="595.20" cy="584.12" r="1.22" fill="#ca0594"/>
<circle cx="597.30" cy="584.00" r="1.22" fill="#b213ac"/>
<circle cx="599.40" cy="583.78" r="1.22" fill="#d80084"/>
<circle cx="601.50" cy="584.43" r="1.22" fill="#ae15b0"/>
<circle cx="603.60" cy="583.99" r="1.22" fill="#ef0066"/>
<circle cx="605.70" cy="584.47" r="1.22" fill="#b710a7"/>
<circle cx="607.80" cy="583.63" r="1.22" fill="#fa0057"/>
<circle cx="609.90" cy="584.48" r="1.22" fill="#d50088"/>
<circle cx="615.30" cy="584.00" r="1.22" fill="#f6005d"/>
<circle cx="559.30" cy="602.30" r="1.22" fill="#9623c8"/>
<circle cx="559.30" cy="603.60" r="1.22" fill="#008bfb"/>
<circle cx="559.30" cy="604.90" r="1.22" fill="#1481f9"/>
<circle cx="560.60" cy="601.00" r="1.22" fill="#1481f9"/>
<circle cx="560.60" cy="602.30" r="1.22" fill="#9623c8"/>
<circle cx="560.60" cy="603.60" r="1.22" fill="#1481f9"/>
<circle cx="560.60" cy="604.90" r="1.22" fill="#9623c8"/>
<circle cx="561.90" cy="598.40" r="1.22" fill="#1481f9"/>
<circle cx="561.90" cy="599.70" r="1.22" fill="#1481f9"/>
<circle cx="561.90" cy="601.00" r="1.22" fill="#008bfb"/>
<circle cx="561.90" cy="602.30" r="1.22" fill="#9623c8"/>
<circle cx="561.90" cy="603.60" r="1.22" fill="#1481f9"/>
<circle cx="561.90" cy="604.90" r="1.22" fill="#9623c8"/>
<circle cx="561.90" cy="606.20" r="1.22" fill="#6e4fe8"/>
<circle cx="561.90" cy="607.50" r="1.22" fill="#008bfb"/>
<circle cx="563.20" cy="597.10" r="1.22" fill="#1481f9"/>
<circle cx="563.20" cy="598.40" r="1.22" fill="#1481f9"/>
<circle cx="563.20" cy="599.70" r="1.22" fill="#1481f9"/>
<circle cx="563.20" cy="601.00" r="1.22" fill="#008bfb"/>
<circle cx="563.20" cy="602.30" r="1.22" fill="#008bfb"/>
<circle cx="563.20" cy="603.60" r="1.22" fill="#6e4fe8"/>
<circle cx="563.20" cy="604.90" r="1.22" fill="#008bfb"/>
<circle cx="563.20" cy="606.20" r="1.22" fill="#9623c8"/>
<circle cx="563.20" cy="607.50" r="1.22" fill="#9623c8"/>
<circle cx="563.20" cy="608.80" r="1.22" fill="#6e4fe8"/>
<circle cx="564.50" cy="601.00" r="1.22" fill="#9623c8"/>
<circle cx="564.50" cy="602.30" r="1.22" fill="#6e4fe8"/>
<circle cx="564.50" cy="603.60" r="1.22" fill="#1481f9"/>
<circle cx="564.50" cy="604.90" r="1.22" fill="#9623c8"/>
<circle cx="564.50" cy="606.20" r="1.22" fill="#9623c8"/>
<circle cx="565.80" cy="602.30" r="1.22" fill="#6e4fe8"/>
<circle cx="565.80" cy="603.60" r="1.22" fill="#9623c8"/>
<circle cx="565.80" cy="604.90" r="1.22" fill="#9623c8"/>
<circle cx="567.50" cy="602.30" r="1.22" fill="#da0081"/>
<circle cx="567.50" cy="603.60" r="1.22" fill="#d2008c"/>
<circle cx="569.00" cy="604.18" r="1.22" fill="#e70071"/>
<circle cx="570.90" cy="603.54" r="1.22" fill="#ee0068"/>
<circle cx="572.80" cy="603.98" r="1.22" fill="#f8005b"/>
<circle cx="574.70" cy="603.97" r="1.22" fill="#e40074"/>
<circle cx="576.60" cy="603.08" r="1.22" fill="#e20077"/>
<circle cx="578.50" cy="603.44" r="1.22" fill="#f6005d"/>
<circle cx="580.40" cy="603.61" r="1.22" fill="#f00065"/>
<circle cx="582.30" cy="603.05" r="1.22" fill="#d80084"/>
<circle cx="584.20" cy="604.11" r="1.22" fill="#e00079"/>
<circle cx="586.10" cy="603.86" r="1.22" fill="#d60087"/>
<circle cx="588.00" cy="603.90" r="1.22" fill="#fa0057"/>
<circle cx="589.90" cy="603.78" r="1.22" fill="#f5005e"/>
<circle cx="575.00" cy="602.30" r="1.22" fill="#dc007f"/>
<circle cx="575.00" cy="603.60" r="1.22" fill="#dd007d"/>
<circle cx="581.00" cy="603.60" r="1.22" fill="#f10063"/>
<circle cx="581.00" cy="604.90" r="1.22" fill="#f40060"/>
<circle cx="559.30" cy="620.60" r="1.22" fill="#008bfb"/>
<circle cx="559.30" cy="621.90" r="1.22" fill="#008bfb"/>
<circle cx="559.30" cy="623.20" r="1.22" fill="#008bfb"/>
<circle cx="559.30" cy="624.50" r="1.22" fill="#6e4fe8"/>
<circle cx="559.30" cy="625.80" r="1.22" fill="#1481f9"/>
<circle cx="560.60" cy="620.60" r="1.22" fill="#008bfb"/>
<circle cx="560.60" cy="621.90" r="1.22" fill="#008bfb"/>
<circle cx="560.60" cy="623.20" r="1.22" fill="#008bfb"/>
<circle cx="560.60" cy="624.50" r="1.22" fill="#1481f9"/>
<circle cx="560.60" cy="625.80" r="1.22" fill="#9623c8"/>
<circle cx="560.60" cy="627.10" r="1.22" fill="#1481f9"/>
<circle cx="561.90" cy="621.90" r="1.22" fill="#008bfb"/>
<circle cx="561.90" cy="623.20" r="1.22" fill="#1481f9"/>
<circle cx="561.90" cy="624.50" r="1.22" fill="#9623c8"/>
<circle cx="563.20" cy="621.90" r="1.22" fill="#1481f9"/>
<circle cx="563.20" cy="623.20" r="1.22" fill="#6e4fe8"/>
<circle cx="564.50" cy="621.90" r="1.22" fill="#008bfb"/>
<circle cx="564.50" cy="623.20" r="1.22" fill="#1481f9"/>
<circle cx="564.50" cy="624.50" r="1.22" fill="#9623c8"/>
<circle cx="565.80" cy="620.60" r="1.22" fill="#6e4fe8"/>
<circle cx="565.80" cy="621.90" r="1.22" fill="#008bfb"/>
<circle cx="565.80" cy="623.20" r="1.22" fill="#9623c8"/>
<circle cx="565.80" cy="624.50" r="1.22" fill="#1481f9"/>
<circle cx="567.10" cy="618.00" r="1.22" fill="#9623c8"/>
<circle cx="567.10" cy="619.30" r="1.22" fill="#9623c8"/>
<circle cx="567.10" cy="620.60" r="1.22" fill="#008bfb"/>
<circle cx="567.10" cy="621.90" r="1.22" fill="#1481f9"/>
<circle cx="567.10" cy="623.20" r="1.22" fill="#1481f9"/>
<circle cx="567.10" cy="624.50" r="1.22" fill="#008bfb"/>
<circle cx="567.10" cy="625.80" r="1.22" fill="#008bfb"/>
<circle cx="567.10" cy="627.10" r="1.22" fill="#008bfb"/>
<circle cx="567.10" cy="628.40" r="1.22" fill="#6e4fe8"/>
<circle cx="567.10" cy="629.70" r="1.22" fill="#008bfb"/>
<circle cx="568.40" cy="619.30" r="1.22" fill="#1481f9"/>
<circle cx="568.40" cy="620.60" r="1.22" fill="#1481f9"/>
<circle cx="568.40" cy="621.90" r="1.22" fill="#6e4fe8"/>
<circle cx="568.40" cy="623.20" r="1.22" fill="#008bfb"/>
<circle cx="568.40" cy="624.50" r="1.22" fill="#1481f9"/>
<circle cx="568.40" cy="625.80" r="1.22" fill="#008bfb"/>
<circle cx="569.70" cy="621.90" r="1.22" fill="#9623c8"/>
<circle cx="569.70" cy="623.20" r="1.22" fill="#008bfb"/>
<circle cx="569.70" cy="624.50" r="1.22" fill="#1481f9"/>
<circle cx="571.00" cy="621.90" r="1.22" fill="#c4089a"/>
<circle cx="571.00" cy="623.20" r="1.22" fill="#a51ab9"/>
<circle cx="572.30" cy="621.90" r="1.22" fill="#a918b5"/>
<circle cx="572.30" cy="623.20" r="1.22" fill="#b312ab"/>
<circle cx="572.30" cy="624.50" r="1.22" fill="#c00b9e"/>
<circle cx="573.60" cy="621.90" r="1.22" fill="#9921c5"/>
<circle cx="573.60" cy="623.20" r="1.22" fill="#aa17b4"/>
<circle cx="574.90" cy="621.90" r="1.22" fill="#bd0ca1"/>
<circle cx="574.90" cy="623.20" r="1.22" fill="#b610a8"/>
<circle cx="574.90" cy="624.50" r="1.22" fill="#a01dbe"/>
<circle cx="576.20" cy="621.90" r="1.22" fill="#a11dbd"/>
<circle cx="576.20" cy="623.20" r="1.22" fill="#a01dbe"/>
<circle cx="576.20" cy="624.50" r="1.22" fill="#9326ca"/>
<circle cx="577.50" cy="616.70" r="1.22" fill="#e10078"/>
<circle cx="577.50" cy="618.00" r="1.22" fill="#d60087"/>
<circle cx="577.50" cy="619.30" r="1.22" fill="#dc007e"/>
<circle cx="577.50" cy="620.60" r="1.22" fill="#ee0068"/>
<circle cx="577.50" cy="621.90" r="1.22" fill="#fd0053"/>
<circle cx="577.50" cy="623.20" r="1.22" fill="#df007b"/>
<circle cx="577.50" cy="624.50" r="1.22" fill="#e9006e"/>
<circle cx="577.50" cy="625.80" r="1.22" fill="#e0007a"/>
<circle cx="577.50" cy="627.10" r="1.22" fill="#fd0053"/>
<circle cx="577.50" cy="628.40" r="1.22" fill="#f90059"/>
<circle cx="578.80" cy="619.30" r="1.22" fill="#fc0055"/>
<circle cx="578.80" cy="620.60" r="1.22" fill="#fa0057"/>
<circle cx="578.80" cy="621.90" r="1.22" fill="#f30061"/>
<circle cx="578.80" cy="623.20" r="1.22" fill="#f40060"/>
<circle cx="578.80" cy="624.50" r="1.22" fill="#dc007f"/>
<circle cx="578.80" cy="625.80" r="1.22" fill="#df007b"/>
<circle cx="578.80" cy="627.10" r="1.22" fill="#ee0067"/>
<circle cx="580.10" cy="621.90" r="1.22" fill="#e50073"/>
<circle cx="580.10" cy="623.20" r="1.22" fill="#e20077"/>
<circle cx="580.10" cy="624.50" r="1.22" fill="#d40089"/>
<circle cx="581.40" cy="623.20" r="1.22" fill="#ee0068"/>
<circle cx="599.00" cy="623.20" r="1.22" fill="#f6005d"/>
<circle cx="611.00" cy="623.20" r="1.22" fill="#f6005d"/>
<circle cx="606.00" cy="623.20" r="1.22" fill="#a21cbc"/>
<circle cx="559.30" cy="641.50" r="1.22" fill="#0787fa"/>
<circle cx="559.30" cy="642.80" r="1.22" fill="#0d85fa"/>
<circle cx="559.30" cy="644.10" r="1.22" fill="#0d85fa"/>
<circle cx="560.60" cy="640.20" r="1.22" fill="#0a86fa"/>
<circle cx="560.60" cy="641.50" r="1.22" fill="#0787fa"/>
<circle cx="560.60" cy="642.80" r="1.22" fill="#0389fb"/>
<circle cx="560.60" cy="644.10" r="1.22" fill="#0987fa"/>
<circle cx="560.60" cy="645.40" r="1.22" fill="#1481f9"/>
<circle cx="560.60" cy="646.70" r="1.22" fill="#0489fb"/>
<circle cx="561.90" cy="637.60" r="1.22" fill="#008bfb"/>
<circle cx="561.90" cy="638.90" r="1.22" fill="#1382f9"/>
<circle cx="561.90" cy="640.20" r="1.22" fill="#1183f9"/>
<circle cx="561.90" cy="641.50" r="1.22" fill="#0b86fa"/>
<circle cx="561.90" cy="642.80" r="1.22" fill="#028afb"/>
<circle cx="561.90" cy="644.10" r="1.22" fill="#0389fb"/>
<circle cx="561.90" cy="645.40" r="1.22" fill="#1083f9"/>
<circle cx="561.90" cy="646.70" r="1.22" fill="#0688fa"/>
<circle cx="563.20" cy="641.50" r="1.22" fill="#1381f9"/>
<circle cx="563.20" cy="642.80" r="1.22" fill="#1780f8"/>
<circle cx="563.20" cy="644.10" r="1.22" fill="#018afb"/>
<circle cx="564.50" cy="641.50" r="1.22" fill="#1481f9"/>
<circle cx="564.50" cy="642.80" r="1.22" fill="#1581f9"/>
<circle cx="565.80" cy="641.50" r="1.22" fill="#0e84f9"/>
<circle cx="565.80" cy="642.80" r="1.22" fill="#0e84f9"/>
<circle cx="565.80" cy="644.10" r="1.22" fill="#0e84f9"/>
<circle cx="567.10" cy="642.80" r="1.22" fill="#0c85fa"/>
<circle cx="568.40" cy="641.50" r="1.22" fill="#0489fb"/>
<circle cx="568.40" cy="642.80" r="1.22" fill="#008bfb"/>
<circle cx="569.70" cy="641.50" r="1.22" fill="#018afb"/>
<circle cx="569.70" cy="642.80" r="1.22" fill="#018bfb"/>
<circle cx="569.70" cy="644.10" r="1.22" fill="#0489fb"/>
<circle cx="571.00" cy="640.20" r="1.22" fill="#ae15b0"/>
<circle cx="571.00" cy="641.50" r="1.22" fill="#8c2ed0"/>
<circle cx="571.00" cy="642.80" r="1.22" fill="#8c2ed0"/>
<circle cx="571.00" cy="644.10" r="1.22" fill="#8c2ed0"/>
<circle cx="572.30" cy="638.90" r="1.22" fill="#ff0051"/>
<circle cx="572.30" cy="640.20" r="1.22" fill="#ff0051"/>
<circle cx="572.30" cy="641.50" r="1.22" fill="#ae15b0"/>
<circle cx="572.30" cy="642.80" r="1.22" fill="#ae15b0"/>
<circle cx="572.30" cy="644.10" r="1.22" fill="#ed0069"/>
<circle cx="572.30" cy="645.40" r="1.22" fill="#ae15b0"/>
<circle cx="572.30" cy="646.70" r="1.22" fill="#ff0051"/>
<circle cx="572.30" cy="648.00" r="1.22" fill="#ff0051"/>
<circle cx="573.60" cy="637.60" r="1.22" fill="#ff0051"/>
<circle cx="573.60" cy="638.90" r="1.22" fill="#ed0069"/>
<circle cx="573.60" cy="640.20" r="1.22" fill="#ff0051"/>
<circle cx="573.60" cy="641.50" r="1.22" fill="#ae15b0"/>
<circle cx="573.60" cy="642.80" r="1.22" fill="#ff0051"/>
<circle cx="573.60" cy="644.10" r="1.22" fill="#d2008c"/>
<circle cx="573.60" cy="645.40" r="1.22" fill="#8c2ed0"/>
<circle cx="573.60" cy="646.70" r="1.22" fill="#d2008c"/>
<circle cx="574.90" cy="640.20" r="1.22" fill="#8c2ed0"/>
<circle cx="574.90" cy="641.50" r="1.22" fill="#ed0069"/>
<circle cx="574.90" cy="642.80" r="1.22" fill="#ff0051"/>
<circle cx="574.90" cy="644.10" r="1.22" fill="#8c2ed0"/>
<circle cx="574.90" cy="645.40" r="1.22" fill="#ed0069"/>
<circle cx="574.90" cy="646.70" r="1.22" fill="#ed0069"/>
<circle cx="576.20" cy="638.90" r="1.22" fill="#ed0069"/>
<circle cx="576.20" cy="640.20" r="1.22" fill="#8c2ed0"/>
<circle cx="576.20" cy="641.50" r="1.22" fill="#ed0069"/>
<circle cx="576.20" cy="642.80" r="1.22" fill="#ae15b0"/>
<circle cx="576.20" cy="644.10" r="1.22" fill="#ae15b0"/>
<circle cx="576.20" cy="645.40" r="1.22" fill="#8c2ed0"/>
<circle cx="577.50" cy="640.20" r="1.22" fill="#d2008c"/>
<circle cx="577.50" cy="641.50" r="1.22" fill="#ae15b0"/>
<circle cx="577.50" cy="642.80" r="1.22" fill="#8c2ed0"/>
<circle cx="577.50" cy="644.10" r="1.22" fill="#8c2ed0"/>
<circle cx="578.80" cy="641.50" r="1.22" fill="#d2008c"/>
<circle cx="578.80" cy="642.80" r="1.22" fill="#d2008c"/>
<circle cx="578.80" cy="644.10" r="1.22" fill="#8c2ed0"/>
<circle cx="578.80" cy="645.40" r="1.22" fill="#d2008c"/>
<circle cx="580.10" cy="641.50" r="1.22" fill="#ff0051"/>
<circle cx="580.10" cy="642.80" r="1.22" fill="#ed0069"/>
<circle cx="580.10" cy="644.10" r="1.22" fill="#ff0051"/>
<circle cx="581.40" cy="642.80" r="1.22" fill="#d2008c"/>
<circle cx="564.80" cy="659.80" r="1.22" fill="#7844e0"/>
<circle cx="564.80" cy="661.10" r="1.22" fill="#1481f9"/>
<circle cx="564.80" cy="662.40" r="1.22" fill="#f6005d"/>
<circle cx="564.80" cy="663.70" r="1.22" fill="#008bfb"/>
<circle cx="564.80" cy="665.00" r="1.22" fill="#5064f2"/>
<circle cx="564.80" cy="666.30" r="1.22" fill="#9623c8"/>
<circle cx="566.10" cy="655.90" r="1.22" fill="#7844e0"/>
<circle cx="566.10" cy="657.20" r="1.22" fill="#7844e0"/>
<circle cx="566.10" cy="658.50" r="1.22" fill="#5064f2"/>
<circle cx="566.10" cy="659.80" r="1.22" fill="#9623c8"/>
<circle cx="566.10" cy="661.10" r="1.22" fill="#7844e0"/>
<circle cx="566.10" cy="662.40" r="1.22" fill="#ae15b0"/>
<circle cx="566.10" cy="663.70" r="1.22" fill="#9623c8"/>
<circle cx="566.10" cy="665.00" r="1.22" fill="#ff0051"/>
<circle cx="566.10" cy="666.30" r="1.22" fill="#7844e0"/>
<circle cx="566.10" cy="667.60" r="1.22" fill="#ae15b0"/>
<circle cx="566.10" cy="668.90" r="1.22" fill="#f6005d"/>
<circle cx="567.40" cy="654.60" r="1.22" fill="#db0080"/>
<circle cx="567.40" cy="655.90" r="1.22" fill="#db0080"/>
<circle cx="567.40" cy="657.20" r="1.22" fill="#f6005d"/>
<circle cx="567.40" cy="658.50" r="1.22" fill="#008bfb"/>
<circle cx="567.40" cy="659.80" r="1.22" fill="#008bfb"/>
<circle cx="567.40" cy="661.10" r="1.22" fill="#ae15b0"/>
<circle cx="567.40" cy="662.40" r="1.22" fill="#7844e0"/>
<circle cx="567.40" cy="663.70" r="1.22" fill="#ff0051"/>
<circle cx="567.40" cy="665.00" r="1.22" fill="#9623c8"/>
<circle cx="567.40" cy="666.30" r="1.22" fill="#7844e0"/>
<circle cx="567.40" cy="667.60" r="1.22" fill="#ae15b0"/>
<circle cx="567.40" cy="668.90" r="1.22" fill="#ff0051"/>
<circle cx="568.70" cy="657.20" r="1.22" fill="#ff0051"/>
<circle cx="568.70" cy="658.50" r="1.22" fill="#1481f9"/>
<circle cx="568.70" cy="659.80" r="1.22" fill="#ff0051"/>
<circle cx="568.70" cy="661.10" r="1.22" fill="#5064f2"/>
<circle cx="568.70" cy="662.40" r="1.22" fill="#5064f2"/>
<circle cx="568.70" cy="663.70" r="1.22" fill="#008bfb"/>
<circle cx="568.70" cy="665.00" r="1.22" fill="#008bfb"/>
<circle cx="568.70" cy="666.30" r="1.22" fill="#1481f9"/>
<circle cx="568.70" cy="667.60" r="1.22" fill="#1481f9"/>
<circle cx="568.70" cy="668.90" r="1.22" fill="#ff0051"/>
<circle cx="570.00" cy="659.80" r="1.22" fill="#5064f2"/>
<circle cx="570.00" cy="661.10" r="1.22" fill="#9623c8"/>
<circle cx="570.00" cy="662.40" r="1.22" fill="#5064f2"/>
<circle cx="570.00" cy="663.70" r="1.22" fill="#008bfb"/>
<circle cx="570.00" cy="665.00" r="1.22" fill="#008bfb"/>
<circle cx="585.90" cy="662.40" r="1.22" fill="#008bfb"/>
<circle cx="631.10" cy="662.40" r="1.22" fill="#008bfb"/>
<circle cx="723.90" cy="662.40" r="1.22" fill="#008bfb"/>
<circle cx="564.20" cy="679.40" r="1.22" fill="#e60071"/>
<circle cx="564.20" cy="680.70" r="1.22" fill="#ea006d"/>
<circle cx="564.20" cy="682.00" r="1.22" fill="#a918b5"/>
<circle cx="564.20" cy="683.30" r="1.22" fill="#de007c"/>
<circle cx="565.50" cy="678.10" r="1.22" fill="#c90595"/>
<circle cx="565.50" cy="679.40" r="1.22" fill="#f00064"/>
<circle cx="565.50" cy="680.70" r="1.22" fill="#f00064"/>
<circle cx="565.50" cy="682.00" r="1.22" fill="#f6005d"/>
<circle cx="565.50" cy="683.30" r="1.22" fill="#a918b5"/>
<circle cx="565.50" cy="684.60" r="1.22" fill="#f4005f"/>
<circle cx="565.50" cy="685.90" r="1.22" fill="#f8005a"/>
<circle cx="565.50" cy="687.20" r="1.22" fill="#fa0057"/>
<circle cx="566.80" cy="675.50" r="1.22" fill="#ae15b0"/>
<circle cx="566.80" cy="676.80" r="1.22" fill="#b80fa6"/>
<circle cx="566.80" cy="678.10" r="1.22" fill="#ae15b0"/>
<circle cx="566.80" cy="679.40" r="1.22" fill="#a61ab8"/>
<circle cx="566.80" cy="680.70" r="1.22" fill="#f30061"/>
<circle cx="566.80" cy="682.00" r="1.22" fill="#f00065"/>
<circle cx="566.80" cy="683.30" r="1.22" fill="#e10078"/>
<circle cx="566.80" cy="684.60" r="1.22" fill="#f10064"/>
<circle cx="566.80" cy="685.90" r="1.22" fill="#e10078"/>
<circle cx="566.80" cy="687.20" r="1.22" fill="#c10a9d"/>
<circle cx="568.10" cy="678.10" r="1.22" fill="#ad16b1"/>
<circle cx="568.10" cy="679.40" r="1.22" fill="#ad16b1"/>
<circle cx="568.10" cy="680.70" r="1.22" fill="#eb006b"/>
<circle cx="568.10" cy="682.00" r="1.22" fill="#b80fa6"/>
<circle cx="568.10" cy="683.30" r="1.22" fill="#c4089a"/>
<circle cx="568.10" cy="684.60" r="1.22" fill="#d0018e"/>
<circle cx="568.10" cy="685.90" r="1.22" fill="#a41bba"/>
<circle cx="569.40" cy="680.70" r="1.22" fill="#be0ca0"/>
<circle cx="569.40" cy="682.00" r="1.22" fill="#c10a9d"/>
<circle cx="569.40" cy="683.30" r="1.22" fill="#e8006f"/>
<circle cx="570.70" cy="680.70" r="1.22" fill="#2c75f6"/>
<circle cx="570.70" cy="682.00" r="1.22" fill="#2678f7"/>
<circle cx="572.00" cy="680.70" r="1.22" fill="#6c51ea"/>
<circle cx="572.00" cy="682.00" r="1.22" fill="#3c6df4"/>
<circle cx="572.00" cy="683.30" r="1.22" fill="#6559ef"/>
<circle cx="573.30" cy="682.00" r="1.22" fill="#4a67f3"/>
<circle cx="573.30" cy="683.30" r="1.22" fill="#0489fb"/>
<circle cx="574.60" cy="680.70" r="1.22" fill="#3273f6"/>
<circle cx="574.60" cy="682.00" r="1.22" fill="#3471f5"/>
<circle cx="575.90" cy="680.70" r="1.22" fill="#5d5ef1"/>
<circle cx="575.90" cy="682.00" r="1.22" fill="#2a77f6"/>
<circle cx="575.90" cy="683.30" r="1.22" fill="#5562f2"/>
<circle cx="577.20" cy="682.03" r="1.22" fill="#1a7ef8"/>
<circle cx="578.50" cy="680.70" r="1.22" fill="#6658ef"/>
<circle cx="578.50" cy="682.00" r="1.22" fill="#0b86fa"/>
<circle cx="580.00" cy="682.26" r="1.22" fill="#1481f9"/>
<circle cx="581.70" cy="681.60" r="1.22" fill="#187ff8"/>
<circle cx="583.40" cy="682.21" r="1.22" fill="#6d50e9"/>
<circle cx="585.50" cy="681.60" r="1.22" fill="#3b6ef5"/>
<circle cx="587.50" cy="681.99" r="1.22" fill="#605cf0"/>
<circle cx="561.00" cy="701.60" r="1.22" fill="#ed0069"/>
<circle cx="563.00" cy="701.60" r="1.22" fill="#6f4ee7"/>
<circle cx="564.30" cy="700.30" r="1.22" fill="#9c20c2"/>
<circle cx="564.30" cy="701.60" r="1.22" fill="#6756ed"/>
<circle cx="564.30" cy="702.90" r="1.22" fill="#a819b6"/>
<circle cx="565.60" cy="699.00" r="1.22" fill="#6a54ec"/>
<circle cx="565.60" cy="700.30" r="1.22" fill="#635bf0"/>
<circle cx="565.60" cy="701.60" r="1.22" fill="#8f2bce"/>
<circle cx="565.60" cy="702.90" r="1.22" fill="#7d3fdc"/>
<circle cx="566.90" cy="696.40" r="1.22" fill="#5064f2"/>
<circle cx="566.90" cy="697.70" r="1.22" fill="#8931d2"/>
<circle cx="566.90" cy="699.00" r="1.22" fill="#4b66f3"/>
<circle cx="566.90" cy="700.30" r="1.22" fill="#9722c7"/>
<circle cx="566.90" cy="701.60" r="1.22" fill="#8f2bce"/>
<circle cx="566.90" cy="702.90" r="1.22" fill="#9722c7"/>
<circle cx="566.90" cy="704.20" r="1.22" fill="#8932d3"/>
<circle cx="566.90" cy="705.50" r="1.22" fill="#704de6"/>
<circle cx="566.90" cy="706.80" r="1.22" fill="#7448e3"/>
<circle cx="566.90" cy="708.10" r="1.22" fill="#7449e4"/>
<circle cx="568.20" cy="695.10" r="1.22" fill="#a21cbc"/>
<circle cx="568.20" cy="696.40" r="1.22" fill="#4c66f3"/>
<circle cx="568.20" cy="697.70" r="1.22" fill="#a21cbc"/>
<circle cx="568.20" cy="699.00" r="1.22" fill="#416bf4"/>
<circle cx="568.20" cy="700.30" r="1.22" fill="#615bf0"/>
<circle cx="568.20" cy="701.60" r="1.22" fill="#6856ed"/>
<circle cx="568.20" cy="702.90" r="1.22" fill="#a31bbb"/>
<circle cx="568.20" cy="704.20" r="1.22" fill="#7d3edc"/>
<circle cx="568.20" cy="705.50" r="1.22" fill="#724ae5"/>
<circle cx="568.20" cy="706.80" r="1.22" fill="#a11cbd"/>
<circle cx="569.50" cy="699.00" r="1.22" fill="#6559ef"/>
<circle cx="569.50" cy="700.30" r="1.22" fill="#7942df"/>
<circle cx="569.50" cy="701.60" r="1.22" fill="#803bda"/>
<circle cx="569.50" cy="702.90" r="1.22" fill="#9425ca"/>
<circle cx="569.50" cy="704.20" r="1.22" fill="#9425ca"/>
<circle cx="570.80" cy="700.30" r="1.22" fill="#f5005e"/>
<circle cx="570.80" cy="701.60" r="1.22" fill="#ed0068"/>
<circle cx="570.80" cy="702.90" r="1.22" fill="#ed0069"/>
<circle cx="572.10" cy="700.30" r="1.22" fill="#e8006f"/>
<circle cx="572.10" cy="701.60" r="1.22" fill="#fb0057"/>
<circle cx="573.40" cy="700.30" r="1.22" fill="#f6005d"/>
<circle cx="573.40" cy="701.60" r="1.22" fill="#f8005a"/>
<circle cx="573.40" cy="702.90" r="1.22" fill="#e9006e"/>
<circle cx="574.70" cy="701.55" r="1.22" fill="#f90059"/>
<circle cx="576.00" cy="700.30" r="1.22" fill="#f40060"/>
<circle cx="576.00" cy="701.60" r="1.22" fill="#e70070"/>
<circle cx="577.50" cy="701.57" r="1.22" fill="#fc0055"/>
<circle cx="579.20" cy="701.39" r="1.22" fill="#e9006e"/>
<circle cx="581.00" cy="701.44" r="1.22" fill="#f7005c"/>
<circle cx="583.00" cy="701.87" r="1.22" fill="#e8006f"/>
<circle cx="586.00" cy="701.32" r="1.22" fill="#eb006c"/>
<circle cx="592.50" cy="701.60" r="1.22" fill="#f6005d"/>
<circle cx="563.50" cy="719.90" r="1.22" fill="#1f7cf8"/>
<circle cx="563.50" cy="721.20" r="1.22" fill="#0a86fa"/>
<circle cx="563.50" cy="722.50" r="1.22" fill="#1481f9"/>
<circle cx="564.80" cy="718.60" r="1.22" fill="#0b85fa"/>
<circle cx="564.80" cy="719.90" r="1.22" fill="#3b6ef5"/>
<circle cx="564.80" cy="721.20" r="1.22" fill="#2c76f6"/>
<circle cx="564.80" cy="722.50" r="1.22" fill="#0688fa"/>
<circle cx="564.80" cy="723.80" r="1.22" fill="#3a6ff5"/>
<circle cx="564.80" cy="725.10" r="1.22" fill="#0688fa"/>
<circle cx="566.10" cy="716.00" r="1.22" fill="#1780f8"/>
<circle cx="566.10" cy="717.30" r="1.22" fill="#3b6ef5"/>
<circle cx="566.10" cy="718.60" r="1.22" fill="#3074f6"/>
<circle cx="566.10" cy="719.90" r="1.22" fill="#2c75f6"/>
<circle cx="566.10" cy="721.20" r="1.22" fill="#1a7ef8"/>
<circle cx="566.10" cy="722.50" r="1.22" fill="#0c85fa"/>
<circle cx="566.10" cy="723.80" r="1.22" fill="#2678f7"/>
<circle cx="566.10" cy="725.10" r="1.22" fill="#0688fa"/>
<circle cx="566.10" cy="726.40" r="1.22" fill="#0c85fa"/>
<circle cx="567.40" cy="717.30" r="1.22" fill="#1780f8"/>
<circle cx="567.40" cy="718.60" r="1.22" fill="#028afb"/>
<circle cx="567.40" cy="719.90" r="1.22" fill="#187ff8"/>
<circle cx="567.40" cy="721.20" r="1.22" fill="#2f74f6"/>
<circle cx="567.40" cy="722.50" r="1.22" fill="#2a77f6"/>
<circle cx="567.40" cy="723.80" r="1.22" fill="#1e7cf8"/>
<circle cx="567.40" cy="725.10" r="1.22" fill="#2678f7"/>
<circle cx="567.40" cy="726.40" r="1.22" fill="#1c7df8"/>
<circle cx="568.70" cy="718.60" r="1.22" fill="#0987fa"/>
<circle cx="568.70" cy="719.90" r="1.22" fill="#2479f7"/>
<circle cx="568.70" cy="721.20" r="1.22" fill="#187ff8"/>
<circle cx="568.70" cy="722.50" r="1.22" fill="#2c75f6"/>
<circle cx="568.70" cy="723.80" r="1.22" fill="#3670f5"/>
<circle cx="570.00" cy="719.90" r="1.22" fill="#e00079"/>
<circle cx="570.00" cy="721.20" r="1.22" fill="#e8006f"/>
<circle cx="570.00" cy="722.50" r="1.22" fill="#f10063"/>
<circle cx="571.30" cy="718.60" r="1.22" fill="#e0007a"/>
<circle cx="571.30" cy="719.90" r="1.22" fill="#d50088"/>
<circle cx="571.30" cy="721.20" r="1.22" fill="#f00065"/>
<circle cx="571.30" cy="722.50" r="1.22" fill="#f90059"/>
<circle cx="572.60" cy="717.30" r="1.22" fill="#f30061"/>
<circle cx="572.60" cy="718.60" r="1.22" fill="#ef0066"/>
<circle cx="572.60" cy="719.90" r="1.22" fill="#f7005b"/>
<circle cx="572.60" cy="721.20" r="1.22" fill="#ee0068"/>
<circle cx="572.60" cy="722.50" r="1.22" fill="#ec006a"/>
<circle cx="572.60" cy="723.80" r="1.22" fill="#e20078"/>
<circle cx="573.90" cy="718.60" r="1.22" fill="#da0082"/>
<circle cx="573.90" cy="719.90" r="1.22" fill="#eb006b"/>
<circle cx="573.90" cy="721.20" r="1.22" fill="#cd0391"/>
<circle cx="573.90" cy="722.50" r="1.22" fill="#e0007a"/>
<circle cx="573.90" cy="723.80" r="1.22" fill="#f30060"/>
<circle cx="575.20" cy="719.90" r="1.22" fill="#f00065"/>
<circle cx="575.20" cy="721.20" r="1.22" fill="#eb006b"/>
<circle cx="575.20" cy="722.50" r="1.22" fill="#d70086"/>
<circle cx="576.50" cy="719.90" r="1.22" fill="#e0007a"/>
<circle cx="576.50" cy="721.20" r="1.22" fill="#e20078"/>
<circle cx="577.80" cy="721.20" r="1.22" fill="#df007b"/>
<circle cx="579.00" cy="721.20" r="1.22" fill="#fb0056"/>
<circle cx="533.30" cy="740.80" r="1.22" fill="#ed0069"/>
<circle cx="545.00" cy="740.80" r="1.22" fill="#f6005d"/>
<circle cx="547.00" cy="739.50" r="1.22" fill="#2877f7"/>
<circle cx="547.00" cy="740.80" r="1.22" fill="#6e4fe8"/>
<circle cx="547.00" cy="742.10" r="1.22" fill="#008bfb"/>
<circle cx="548.50" cy="740.80" r="1.22" fill="#2877f7"/>
<circle cx="548.50" cy="742.10" r="1.22" fill="#2877f7"/>
<circle cx="550.00" cy="738.20" r="1.22" fill="#008bfb"/>
<circle cx="550.00" cy="739.50" r="1.22" fill="#008bfb"/>
<circle cx="550.00" cy="740.80" r="1.22" fill="#008bfb"/>
<circle cx="550.00" cy="742.10" r="1.22" fill="#008bfb"/>
<circle cx="550.00" cy="743.40" r="1.22" fill="#ed0069"/>
<circle cx="551.50" cy="735.60" r="1.22" fill="#008bfb"/>
<circle cx="551.50" cy="736.90" r="1.22" fill="#2877f7"/>
<circle cx="551.50" cy="738.20" r="1.22" fill="#ed0069"/>
<circle cx="551.50" cy="739.50" r="1.22" fill="#6e4fe8"/>
<circle cx="551.50" cy="740.80" r="1.22" fill="#ed0069"/>
<circle cx="551.50" cy="742.10" r="1.22" fill="#008bfb"/>
<circle cx="551.50" cy="743.40" r="1.22" fill="#008bfb"/>
<circle cx="551.50" cy="744.70" r="1.22" fill="#1481f9"/>
<circle cx="553.00" cy="738.20" r="1.22" fill="#ed0069"/>
<circle cx="553.00" cy="739.50" r="1.22" fill="#ed0069"/>
<circle cx="553.00" cy="740.80" r="1.22" fill="#2877f7"/>
<circle cx="553.00" cy="742.10" r="1.22" fill="#2877f7"/>
<circle cx="553.00" cy="743.40" r="1.22" fill="#1481f9"/>
<circle cx="554.50" cy="739.50" r="1.22" fill="#6e4fe8"/>
<circle cx="554.50" cy="740.80" r="1.22" fill="#ed0069"/>
<circle cx="554.50" cy="742.10" r="1.22" fill="#008bfb"/>
<circle cx="556.00" cy="738.20" r="1.22" fill="#2877f7"/>
<circle cx="556.00" cy="739.50" r="1.22" fill="#1481f9"/>
<circle cx="556.00" cy="740.80" r="1.22" fill="#008bfb"/>
<circle cx="556.00" cy="742.10" r="1.22" fill="#1481f9"/>
<circle cx="556.00" cy="743.40" r="1.22" fill="#ed0069"/>
<circle cx="557.50" cy="738.20" r="1.22" fill="#2877f7"/>
<circle cx="557.50" cy="739.50" r="1.22" fill="#ed0069"/>
<circle cx="557.50" cy="740.80" r="1.22" fill="#1481f9"/>
<circle cx="557.50" cy="742.10" r="1.22" fill="#2877f7"/>
<circle cx="559.00" cy="735.60" r="1.22" fill="#ed0069"/>
<circle cx="559.00" cy="736.90" r="1.22" fill="#008bfb"/>
<circle cx="559.00" cy="738.20" r="1.22" fill="#2877f7"/>
<circle cx="559.00" cy="739.50" r="1.22" fill="#008bfb"/>
<circle cx="559.00" cy="740.80" r="1.22" fill="#ed0069"/>
<circle cx="559.00" cy="742.10" r="1.22" fill="#1481f9"/>
<circle cx="559.00" cy="743.40" r="1.22" fill="#1481f9"/>
<circle cx="559.00" cy="744.70" r="1.22" fill="#008bfb"/>
<circle cx="559.00" cy="746.00" r="1.22" fill="#ed0069"/>
<circle cx="560.50" cy="740.80" r="1.22" fill="#1481f9"/>
<circle cx="560.50" cy="742.10" r="1.22" fill="#1481f9"/>
<circle cx="562.00" cy="740.80" r="1.22" fill="#2877f7"/>
<circle cx="562.00" cy="742.10" r="1.22" fill="#2877f7"/>
<circle cx="563.50" cy="735.60" r="1.22" fill="#2877f7"/>
<circle cx="563.50" cy="736.90" r="1.22" fill="#6e4fe8"/>
<circle cx="563.50" cy="738.20" r="1.22" fill="#ed0069"/>
<circle cx="563.50" cy="739.50" r="1.22" fill="#008bfb"/>
<circle cx="563.50" cy="740.80" r="1.22" fill="#ed0069"/>
<circle cx="563.50" cy="742.10" r="1.22" fill="#1481f9"/>
<circle cx="563.50" cy="743.40" r="1.22" fill="#008bfb"/>
<circle cx="563.50" cy="744.70" r="1.22" fill="#1481f9"/>
<circle cx="563.50" cy="746.00" r="1.22" fill="#2877f7"/>
<circle cx="565.00" cy="739.50" r="1.22" fill="#008bfb"/>
<circle cx="565.00" cy="740.80" r="1.22" fill="#008bfb"/>
<circle cx="565.00" cy="742.10" r="1.22" fill="#6e4fe8"/>
<circle cx="565.00" cy="743.40" r="1.22" fill="#1481f9"/>
<circle cx="567.50" cy="739.50" r="1.22" fill="#8239d8"/>
<circle cx="567.50" cy="740.80" r="1.22" fill="#008bfb"/>
<circle cx="567.50" cy="742.10" r="1.22" fill="#c60798"/>
<circle cx="569.00" cy="739.50" r="1.22" fill="#a21cbc"/>
<circle cx="569.00" cy="740.80" r="1.22" fill="#a21cbc"/>
<circle cx="569.00" cy="742.10" r="1.22" fill="#5064f2"/>
<circle cx="570.50" cy="739.50" r="1.22" fill="#008bfb"/>
<circle cx="570.50" cy="740.80" r="1.22" fill="#5064f2"/>
<circle cx="572.00" cy="739.50" r="1.22" fill="#ed0069"/>
<circle cx="572.00" cy="740.80" r="1.22" fill="#a21cbc"/>
<circle cx="572.00" cy="742.10" r="1.22" fill="#ed0069"/>
<circle cx="573.50" cy="735.60" r="1.22" fill="#5064f2"/>
<circle cx="573.50" cy="736.90" r="1.22" fill="#8239d8"/>
<circle cx="573.50" cy="738.20" r="1.22" fill="#008bfb"/>
<circle cx="573.50" cy="739.50" r="1.22" fill="#ed0069"/>
<circle cx="573.50" cy="740.80" r="1.22" fill="#8239d8"/>
<circle cx="573.50" cy="742.10" r="1.22" fill="#8239d8"/>
<circle cx="573.50" cy="743.40" r="1.22" fill="#a21cbc"/>
<circle cx="573.50" cy="744.70" r="1.22" fill="#c60798"/>
<circle cx="573.50" cy="746.00" r="1.22" fill="#c60798"/>
<circle cx="575.00" cy="740.80" r="1.22" fill="#5064f2"/>
<circle cx="575.00" cy="742.10" r="1.22" fill="#8239d8"/>
<circle cx="576.50" cy="739.50" r="1.22" fill="#a21cbc"/>
<circle cx="576.50" cy="740.80" r="1.22" fill="#8239d8"/>
<circle cx="576.50" cy="742.10" r="1.22" fill="#a21cbc"/>
<circle cx="576.50" cy="743.40" r="1.22" fill="#8239d8"/>
<circle cx="578.00" cy="738.20" r="1.22" fill="#c60798"/>
<circle cx="578.00" cy="739.50" r="1.22" fill="#008bfb"/>
<circle cx="578.00" cy="740.80" r="1.22" fill="#8239d8"/>
<circle cx="578.00" cy="742.10" r="1.22" fill="#8239d8"/>
<circle cx="579.50" cy="738.20" r="1.22" fill="#8239d8"/>
<circle cx="579.50" cy="739.50" r="1.22" fill="#a21cbc"/>
<circle cx="579.50" cy="740.80" r="1.22" fill="#a21cbc"/>
<circle cx="579.50" cy="742.10" r="1.22" fill="#8239d8"/>
<circle cx="579.50" cy="743.40" r="1.22" fill="#c60798"/>
<circle cx="581.00" cy="739.50" r="1.22" fill="#8239d8"/>
<circle cx="581.00" cy="740.80" r="1.22" fill="#c60798"/>
<circle cx="582.50" cy="739.50" r="1.22" fill="#8239d8"/>
<circle cx="582.50" cy="740.80" r="1.22" fill="#5064f2"/>
<circle cx="582.50" cy="742.10" r="1.22" fill="#ed0069"/>
<circle cx="584.00" cy="735.60" r="1.22" fill="#a21cbc"/>
<circle cx="584.00" cy="736.90" r="1.22" fill="#008bfb"/>
<circle cx="584.00" cy="738.20" r="1.22" fill="#8239d8"/>
<circle cx="584.00" cy="739.50" r="1.22" fill="#5064f2"/>
<circle cx="584.00" cy="740.80" r="1.22" fill="#8239d8"/>
<circle cx="584.00" cy="742.10" r="1.22" fill="#ed0069"/>
<circle cx="584.00" cy="743.40" r="1.22" fill="#8239d8"/>
<circle cx="584.00" cy="744.70" r="1.22" fill="#5064f2"/>
<circle cx="585.50" cy="739.50" r="1.22" fill="#c60798"/>
<circle cx="585.50" cy="740.80" r="1.22" fill="#ed0069"/>
<circle cx="585.50" cy="742.10" r="1.22" fill="#008bfb"/>
<circle cx="587.00" cy="739.50" r="1.22" fill="#008bfb"/>
<circle cx="587.00" cy="740.80" r="1.22" fill="#a21cbc"/>
<circle cx="587.00" cy="742.10" r="1.22" fill="#ed0069"/>
<circle cx="587.00" cy="743.40" r="1.22" fill="#c60798"/>
<circle cx="588.50" cy="739.50" r="1.22" fill="#a21cbc"/>
<circle cx="588.50" cy="740.80" r="1.22" fill="#c60798"/>
<circle cx="590.00" cy="736.90" r="1.22" fill="#c60798"/>
<circle cx="590.00" cy="738.20" r="1.22" fill="#008bfb"/>
<circle cx="590.00" cy="739.50" r="1.22" fill="#a21cbc"/>
<circle cx="590.00" cy="740.80" r="1.22" fill="#8239d8"/>
<circle cx="590.00" cy="742.10" r="1.22" fill="#008bfb"/>
<circle cx="590.00" cy="743.40" r="1.22" fill="#008bfb"/>
<circle cx="590.00" cy="744.70" r="1.22" fill="#008bfb"/>
<circle cx="591.50" cy="740.80" r="1.22" fill="#5064f2"/>
<circle cx="591.50" cy="742.10" r="1.22" fill="#a21cbc"/>
<circle cx="593.00" cy="738.20" r="1.22" fill="#c60798"/>
<circle cx="593.00" cy="739.50" r="1.22" fill="#ed0069"/>
<circle cx="593.00" cy="740.80" r="1.22" fill="#008bfb"/>
<circle cx="593.00" cy="742.10" r="1.22" fill="#c60798"/>
<circle cx="593.00" cy="743.40" r="1.22" fill="#c60798"/>
<circle cx="594.50" cy="738.20" r="1.22" fill="#c60798"/>
<circle cx="594.50" cy="739.50" r="1.22" fill="#a21cbc"/>
<circle cx="594.50" cy="740.80" r="1.22" fill="#c60798"/>
<circle cx="594.50" cy="742.10" r="1.22" fill="#5064f2"/>
<circle cx="594.50" cy="743.40" r="1.22" fill="#ed0069"/>
<circle cx="596.00" cy="739.50" r="1.22" fill="#ed0069"/>
<circle cx="596.00" cy="740.80" r="1.22" fill="#ed0069"/>
<circle cx="596.00" cy="742.10" r="1.22" fill="#ed0069"/>
<circle cx="596.00" cy="743.40" r="1.22" fill="#c60798"/>
<circle cx="597.50" cy="738.20" r="1.22" fill="#ed0069"/>
<circle cx="597.50" cy="739.50" r="1.22" fill="#008bfb"/>
<circle cx="597.50" cy="740.80" r="1.22" fill="#5064f2"/>
<circle cx="597.50" cy="742.10" r="1.22" fill="#008bfb"/>
<circle cx="599.00" cy="739.50" r="1.22" fill="#ed0069"/>
<circle cx="599.00" cy="740.80" r="1.22" fill="#ed0069"/>
<circle cx="599.00" cy="742.10" r="1.22" fill="#a21cbc"/>
<circle cx="603.40" cy="740.80" r="1.22" fill="#a21cbc"/>
<circle cx="612.00" cy="740.80" r="1.22" fill="#f6005d"/>
<circle cx="619.50" cy="740.80" r="1.22" fill="#6e4fe8"/>
<line x1="482.5" y1="761.3" x2="735.5" y2="761.3" stroke="#555555" stroke-width="1"/>
<line x1="522.25" y1="761.3" x2="522.25" y2="763.8" stroke="#555555" stroke-width="0.8"/>
<text x="521.05" y="772.8" font-size="8.8" text-anchor="middle" fill="#333333">−5</text>
<line x1="569.60" y1="761.3" x2="569.60" y2="763.8" stroke="#555555" stroke-width="0.8"/>
<text x="569.60" y="772.8" font-size="8.8" text-anchor="middle" fill="#333333">0</text>
<line x1="616.95" y1="761.3" x2="616.95" y2="763.8" stroke="#555555" stroke-width="0.8"/>
<text x="616.95" y="772.8" font-size="8.8" text-anchor="middle" fill="#333333">5</text>
<line x1="664.30" y1="761.3" x2="664.30" y2="763.8" stroke="#555555" stroke-width="0.8"/>
<text x="664.30" y="772.8" font-size="8.8" text-anchor="middle" fill="#333333">10</text>
<line x1="711.65" y1="761.3" x2="711.65" y2="763.8" stroke="#555555" stroke-width="0.8"/>
<text x="711.65" y="772.8" font-size="8.8" text-anchor="middle" fill="#333333">15</text>
<text x="394.5" y="569.2" font-size="9.5" textLength="71.1" lengthAdjust="spacingAndGlyphs" fill="#333333" >mfq_day1_total</text>
<text x="371.8" y="588.8" font-size="9.5" textLength="93.8" lengthAdjust="spacingAndGlyphs" fill="#333333" >masc_day1_physical</text>
<text x="407.5" y="608.7" font-size="9.5" textLength="58.1" lengthAdjust="spacingAndGlyphs" fill="#333333" >NEO_day1_N</text>
<text x="424.3" y="627.9" font-size="9.5" textLength="41.3" lengthAdjust="spacingAndGlyphs" fill="#333333" >mean_PA</text>
<text x="387.1" y="647.5" font-size="9.5" textLength="78.5" lengthAdjust="spacingAndGlyphs" fill="#333333" >CESD_day1_Total</text>
<text x="354.0" y="666.9" font-size="9.5" textLength="111.6" lengthAdjust="spacingAndGlyphs" fill="#333333" >r_caudate_antwinsvneut</text>
<text x="350.1" y="686.9" font-size="9.5" textLength="115.5" lengthAdjust="spacingAndGlyphs" fill="#333333" >r_putamen_antwinsvneut</text>
<text x="439.5" y="706.5" font-size="9.5" textLength="26.1" lengthAdjust="spacingAndGlyphs" fill="#333333" >sd_PA</text>
<text x="395.7" y="726.2" font-size="9.5" textLength="69.9" lengthAdjust="spacingAndGlyphs" fill="#333333" >crsq_rum_day1</text>
<text x="350.4" y="745.0" font-size="9.5" textLength="115.2" lengthAdjust="spacingAndGlyphs" fill="#333333" >Sum of 32 other features</text>
<text x="522.5" y="784.0" font-size="9.9" textLength="173.1" lengthAdjust="spacingAndGlyphs" fill="#333333" >SHAP value (impact on model output)</text>
<defs><linearGradient id="gB" x1="0" y1="0" x2="0" y2="1"><stop offset="0" stop-color="#ff0051"/><stop offset="0.25" stop-color="#d2008c"/><stop offset="0.5" stop-color="#9623c8"/><stop offset="0.75" stop-color="#645af0"/><stop offset="1" stop-color="#008bfb"/></linearGradient></defs>
<rect x="751.0" y="545" width="2.8" height="215.60000000000002" fill="url(#gB)"/>
<text x="756.7" y="548.6" font-size="8.2" textLength="17.6" lengthAdjust="spacingAndGlyphs" fill="#333333" >High</text>
<text x="756.3" y="764.5" font-size="8.2" textLength="15.8" lengthAdjust="spacingAndGlyphs" fill="#333333" >Low</text>
<text transform="translate(779.8,682.8) rotate(-90)" x="0" y="0" font-size="8.5" textLength="57.799999999999955" lengthAdjust="spacingAndGlyphs" fill="#333333">Feature value</text>
</svg></body></html>
